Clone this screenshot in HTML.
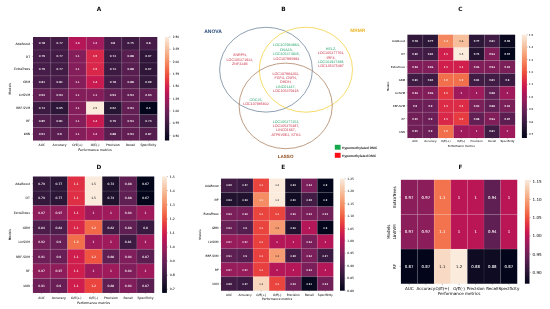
<!DOCTYPE html>
<html><head><meta charset="utf-8"><title>Figure</title>
<style>
html,body{margin:0;padding:0;background:#fff;}
body{width:550px;height:309px;overflow:hidden;}
svg{display:block;font-family:'DejaVu Sans','Liberation Sans',sans-serif;text-rendering:geometricPrecision;}
text{paint-order:stroke;stroke-linejoin:round;}
</style></head><body>
<svg width="550" height="309" viewBox="0 0 550 309">
<defs><linearGradient id="gA" x1="0" y1="0" x2="0" y2="1"><stop offset="0.0000" stop-color="#faebdd"/><stop offset="0.0417" stop-color="#f8dcc7"/><stop offset="0.0833" stop-color="#f7ccaf"/><stop offset="0.1250" stop-color="#f6bc99"/><stop offset="0.1667" stop-color="#f6ab83"/><stop offset="0.2083" stop-color="#f59970"/><stop offset="0.2500" stop-color="#f58860"/><stop offset="0.2917" stop-color="#f37450"/><stop offset="0.3333" stop-color="#f06043"/><stop offset="0.3750" stop-color="#ec4c3e"/><stop offset="0.4167" stop-color="#e43841"/><stop offset="0.4583" stop-color="#d82748"/><stop offset="0.5000" stop-color="#cb1b4f"/><stop offset="0.5417" stop-color="#ba1656"/><stop offset="0.5833" stop-color="#a8185a"/><stop offset="0.6250" stop-color="#971c5b"/><stop offset="0.6667" stop-color="#841e5a"/><stop offset="0.7083" stop-color="#711f57"/><stop offset="0.7500" stop-color="#611f53"/><stop offset="0.7917" stop-color="#501d4c"/><stop offset="0.8333" stop-color="#3f1b43"/><stop offset="0.8750" stop-color="#30173a"/><stop offset="0.9167" stop-color="#20122e"/><stop offset="0.9583" stop-color="#100b23"/><stop offset="1.0000" stop-color="#03051a"/></linearGradient><linearGradient id="gC" x1="0" y1="0" x2="0" y2="1"><stop offset="0.0000" stop-color="#faebdd"/><stop offset="0.0417" stop-color="#f8dcc7"/><stop offset="0.0833" stop-color="#f7ccaf"/><stop offset="0.1250" stop-color="#f6bc99"/><stop offset="0.1667" stop-color="#f6ab83"/><stop offset="0.2083" stop-color="#f59970"/><stop offset="0.2500" stop-color="#f58860"/><stop offset="0.2917" stop-color="#f37450"/><stop offset="0.3333" stop-color="#f06043"/><stop offset="0.3750" stop-color="#ec4c3e"/><stop offset="0.4167" stop-color="#e43841"/><stop offset="0.4583" stop-color="#d82748"/><stop offset="0.5000" stop-color="#cb1b4f"/><stop offset="0.5417" stop-color="#ba1656"/><stop offset="0.5833" stop-color="#a8185a"/><stop offset="0.6250" stop-color="#971c5b"/><stop offset="0.6667" stop-color="#841e5a"/><stop offset="0.7083" stop-color="#711f57"/><stop offset="0.7500" stop-color="#611f53"/><stop offset="0.7917" stop-color="#501d4c"/><stop offset="0.8333" stop-color="#3f1b43"/><stop offset="0.8750" stop-color="#30173a"/><stop offset="0.9167" stop-color="#20122e"/><stop offset="0.9583" stop-color="#100b23"/><stop offset="1.0000" stop-color="#03051a"/></linearGradient><linearGradient id="gD" x1="0" y1="0" x2="0" y2="1"><stop offset="0.0000" stop-color="#faebdd"/><stop offset="0.0417" stop-color="#f8dcc7"/><stop offset="0.0833" stop-color="#f7ccaf"/><stop offset="0.1250" stop-color="#f6bc99"/><stop offset="0.1667" stop-color="#f6ab83"/><stop offset="0.2083" stop-color="#f59970"/><stop offset="0.2500" stop-color="#f58860"/><stop offset="0.2917" stop-color="#f37450"/><stop offset="0.3333" stop-color="#f06043"/><stop offset="0.3750" stop-color="#ec4c3e"/><stop offset="0.4167" stop-color="#e43841"/><stop offset="0.4583" stop-color="#d82748"/><stop offset="0.5000" stop-color="#cb1b4f"/><stop offset="0.5417" stop-color="#ba1656"/><stop offset="0.5833" stop-color="#a8185a"/><stop offset="0.6250" stop-color="#971c5b"/><stop offset="0.6667" stop-color="#841e5a"/><stop offset="0.7083" stop-color="#711f57"/><stop offset="0.7500" stop-color="#611f53"/><stop offset="0.7917" stop-color="#501d4c"/><stop offset="0.8333" stop-color="#3f1b43"/><stop offset="0.8750" stop-color="#30173a"/><stop offset="0.9167" stop-color="#20122e"/><stop offset="0.9583" stop-color="#100b23"/><stop offset="1.0000" stop-color="#03051a"/></linearGradient><linearGradient id="gE" x1="0" y1="0" x2="0" y2="1"><stop offset="0.0000" stop-color="#faebdd"/><stop offset="0.0417" stop-color="#f8dcc7"/><stop offset="0.0833" stop-color="#f7ccaf"/><stop offset="0.1250" stop-color="#f6bc99"/><stop offset="0.1667" stop-color="#f6ab83"/><stop offset="0.2083" stop-color="#f59970"/><stop offset="0.2500" stop-color="#f58860"/><stop offset="0.2917" stop-color="#f37450"/><stop offset="0.3333" stop-color="#f06043"/><stop offset="0.3750" stop-color="#ec4c3e"/><stop offset="0.4167" stop-color="#e43841"/><stop offset="0.4583" stop-color="#d82748"/><stop offset="0.5000" stop-color="#cb1b4f"/><stop offset="0.5417" stop-color="#ba1656"/><stop offset="0.5833" stop-color="#a8185a"/><stop offset="0.6250" stop-color="#971c5b"/><stop offset="0.6667" stop-color="#841e5a"/><stop offset="0.7083" stop-color="#711f57"/><stop offset="0.7500" stop-color="#611f53"/><stop offset="0.7917" stop-color="#501d4c"/><stop offset="0.8333" stop-color="#3f1b43"/><stop offset="0.8750" stop-color="#30173a"/><stop offset="0.9167" stop-color="#20122e"/><stop offset="0.9583" stop-color="#100b23"/><stop offset="1.0000" stop-color="#03051a"/></linearGradient><linearGradient id="gF" x1="0" y1="0" x2="0" y2="1"><stop offset="0.0000" stop-color="#faebdd"/><stop offset="0.0417" stop-color="#f8dcc7"/><stop offset="0.0833" stop-color="#f7ccaf"/><stop offset="0.1250" stop-color="#f6bc99"/><stop offset="0.1667" stop-color="#f6ab83"/><stop offset="0.2083" stop-color="#f59970"/><stop offset="0.2500" stop-color="#f58860"/><stop offset="0.2917" stop-color="#f37450"/><stop offset="0.3333" stop-color="#f06043"/><stop offset="0.3750" stop-color="#ec4c3e"/><stop offset="0.4167" stop-color="#e43841"/><stop offset="0.4583" stop-color="#d82748"/><stop offset="0.5000" stop-color="#cb1b4f"/><stop offset="0.5417" stop-color="#ba1656"/><stop offset="0.5833" stop-color="#a8185a"/><stop offset="0.6250" stop-color="#971c5b"/><stop offset="0.6667" stop-color="#841e5a"/><stop offset="0.7083" stop-color="#711f57"/><stop offset="0.7500" stop-color="#611f53"/><stop offset="0.7917" stop-color="#501d4c"/><stop offset="0.8333" stop-color="#3f1b43"/><stop offset="0.8750" stop-color="#30173a"/><stop offset="0.9167" stop-color="#20122e"/><stop offset="0.9583" stop-color="#100b23"/><stop offset="1.0000" stop-color="#03051a"/></linearGradient></defs>
<rect width="550" height="309" fill="#ffffff"/>
<rect x="33.00" y="37.00" width="17.80" height="12.99" fill="#451c47"/>
<rect x="50.75" y="37.00" width="17.80" height="12.99" fill="#431c46"/>
<rect x="68.50" y="37.00" width="17.80" height="12.99" fill="#b51657"/>
<rect x="86.25" y="37.00" width="17.80" height="12.99" fill="#a11a5b"/>
<rect x="104.00" y="37.00" width="17.80" height="12.99" fill="#481c48"/>
<rect x="121.75" y="37.00" width="17.80" height="12.99" fill="#3f1b43"/>
<rect x="139.50" y="37.00" width="17.80" height="12.99" fill="#481c48"/>
<rect x="33.00" y="49.94" width="17.80" height="12.99" fill="#461c48"/>
<rect x="50.75" y="49.94" width="17.80" height="12.99" fill="#431c46"/>
<rect x="68.50" y="49.94" width="17.80" height="12.99" fill="#841e5a"/>
<rect x="86.25" y="49.94" width="17.80" height="12.99" fill="#d82748"/>
<rect x="104.00" y="49.94" width="17.80" height="12.99" fill="#3d1a42"/>
<rect x="121.75" y="49.94" width="17.80" height="12.99" fill="#581e4f"/>
<rect x="139.50" y="49.94" width="17.80" height="12.99" fill="#30173a"/>
<rect x="33.00" y="62.88" width="17.80" height="12.99" fill="#461c48"/>
<rect x="50.75" y="62.88" width="17.80" height="12.99" fill="#431c46"/>
<rect x="68.50" y="62.88" width="17.80" height="12.99" fill="#841e5a"/>
<rect x="86.25" y="62.88" width="17.80" height="12.99" fill="#d82748"/>
<rect x="104.00" y="62.88" width="17.80" height="12.99" fill="#3d1a42"/>
<rect x="121.75" y="62.88" width="17.80" height="12.99" fill="#581e4f"/>
<rect x="139.50" y="62.88" width="17.80" height="12.99" fill="#30173a"/>
<rect x="33.00" y="75.81" width="17.80" height="12.99" fill="#491d49"/>
<rect x="50.75" y="75.81" width="17.80" height="12.99" fill="#491d49"/>
<rect x="68.50" y="75.81" width="17.80" height="12.99" fill="#841e5a"/>
<rect x="86.25" y="75.81" width="17.80" height="12.99" fill="#c81951"/>
<rect x="104.00" y="75.81" width="17.80" height="12.99" fill="#451c47"/>
<rect x="121.75" y="75.81" width="17.80" height="12.99" fill="#581e4f"/>
<rect x="139.50" y="75.81" width="17.80" height="12.99" fill="#34193d"/>
<rect x="33.00" y="88.75" width="17.80" height="12.99" fill="#631f53"/>
<rect x="50.75" y="88.75" width="17.80" height="12.99" fill="#631f53"/>
<rect x="68.50" y="88.75" width="17.80" height="12.99" fill="#841e5a"/>
<rect x="86.25" y="88.75" width="17.80" height="12.99" fill="#841e5a"/>
<rect x="104.00" y="88.75" width="17.80" height="12.99" fill="#631f53"/>
<rect x="121.75" y="88.75" width="17.80" height="12.99" fill="#631f53"/>
<rect x="139.50" y="88.75" width="17.80" height="12.99" fill="#611f53"/>
<rect x="33.00" y="101.69" width="17.80" height="12.99" fill="#3d1a42"/>
<rect x="50.75" y="101.69" width="17.80" height="12.99" fill="#2d1738"/>
<rect x="68.50" y="101.69" width="17.80" height="12.99" fill="#841e5a"/>
<rect x="86.25" y="101.69" width="17.80" height="12.99" fill="#faebdd"/>
<rect x="104.00" y="101.69" width="17.80" height="12.99" fill="#271534"/>
<rect x="121.75" y="101.69" width="17.80" height="12.99" fill="#631f53"/>
<rect x="139.50" y="101.69" width="17.80" height="12.99" fill="#03051a"/>
<rect x="33.00" y="114.62" width="17.80" height="12.99" fill="#511e4d"/>
<rect x="50.75" y="114.62" width="17.80" height="12.99" fill="#491d49"/>
<rect x="68.50" y="114.62" width="17.80" height="12.99" fill="#841e5a"/>
<rect x="86.25" y="114.62" width="17.80" height="12.99" fill="#c81951"/>
<rect x="104.00" y="114.62" width="17.80" height="12.99" fill="#461c48"/>
<rect x="121.75" y="114.62" width="17.80" height="12.99" fill="#631f53"/>
<rect x="139.50" y="114.62" width="17.80" height="12.99" fill="#3c1a42"/>
<rect x="33.00" y="127.56" width="17.80" height="12.99" fill="#5e1f52"/>
<rect x="50.75" y="127.56" width="17.80" height="12.99" fill="#5b1e51"/>
<rect x="68.50" y="127.56" width="17.80" height="12.99" fill="#841e5a"/>
<rect x="86.25" y="127.56" width="17.80" height="12.99" fill="#981b5b"/>
<rect x="104.00" y="127.56" width="17.80" height="12.99" fill="#581e4f"/>
<rect x="121.75" y="127.56" width="17.80" height="12.99" fill="#631f53"/>
<rect x="139.50" y="127.56" width="17.80" height="12.99" fill="#561e4f"/>
<line x1="50.75" y1="37.00" x2="50.75" y2="140.50" stroke="#fff" stroke-opacity="0.42" stroke-width="0.25"/>
<line x1="68.50" y1="37.00" x2="68.50" y2="140.50" stroke="#fff" stroke-opacity="0.42" stroke-width="0.25"/>
<line x1="86.25" y1="37.00" x2="86.25" y2="140.50" stroke="#fff" stroke-opacity="0.42" stroke-width="0.25"/>
<line x1="104.00" y1="37.00" x2="104.00" y2="140.50" stroke="#fff" stroke-opacity="0.42" stroke-width="0.25"/>
<line x1="121.75" y1="37.00" x2="121.75" y2="140.50" stroke="#fff" stroke-opacity="0.42" stroke-width="0.25"/>
<line x1="139.50" y1="37.00" x2="139.50" y2="140.50" stroke="#fff" stroke-opacity="0.42" stroke-width="0.25"/>
<line x1="33.00" y1="49.94" x2="157.25" y2="49.94" stroke="#fff" stroke-opacity="0.42" stroke-width="0.25"/>
<line x1="33.00" y1="62.88" x2="157.25" y2="62.88" stroke="#fff" stroke-opacity="0.42" stroke-width="0.25"/>
<line x1="33.00" y1="75.81" x2="157.25" y2="75.81" stroke="#fff" stroke-opacity="0.42" stroke-width="0.25"/>
<line x1="33.00" y1="88.75" x2="157.25" y2="88.75" stroke="#fff" stroke-opacity="0.42" stroke-width="0.25"/>
<line x1="33.00" y1="101.69" x2="157.25" y2="101.69" stroke="#fff" stroke-opacity="0.42" stroke-width="0.25"/>
<line x1="33.00" y1="114.62" x2="157.25" y2="114.62" stroke="#fff" stroke-opacity="0.42" stroke-width="0.25"/>
<line x1="33.00" y1="127.56" x2="157.25" y2="127.56" stroke="#fff" stroke-opacity="0.42" stroke-width="0.25"/>
<text x="41.88" y="44.48" font-size="2.8" fill="#ffffff" text-anchor="middle" stroke="#ffffff" stroke-width="0.045">0.78</text>
<text x="59.62" y="44.48" font-size="2.8" fill="#ffffff" text-anchor="middle" stroke="#ffffff" stroke-width="0.045">0.77</text>
<text x="77.38" y="44.48" font-size="2.8" fill="#ffffff" text-anchor="middle" stroke="#ffffff" stroke-width="0.045">1.3</text>
<text x="95.12" y="44.48" font-size="2.8" fill="#ffffff" text-anchor="middle" stroke="#ffffff" stroke-width="0.045">1.2</text>
<text x="112.88" y="44.48" font-size="2.8" fill="#ffffff" text-anchor="middle" stroke="#ffffff" stroke-width="0.045">0.8</text>
<text x="130.62" y="44.48" font-size="2.8" fill="#ffffff" text-anchor="middle" stroke="#ffffff" stroke-width="0.045">0.75</text>
<text x="148.38" y="44.48" font-size="2.8" fill="#ffffff" text-anchor="middle" stroke="#ffffff" stroke-width="0.045">0.8</text>
<text x="41.88" y="57.41" font-size="2.8" fill="#ffffff" text-anchor="middle" stroke="#ffffff" stroke-width="0.045">0.79</text>
<text x="59.62" y="57.41" font-size="2.8" fill="#ffffff" text-anchor="middle" stroke="#ffffff" stroke-width="0.045">0.77</text>
<text x="77.38" y="57.41" font-size="2.8" fill="#ffffff" text-anchor="middle" stroke="#ffffff" stroke-width="0.045">1.1</text>
<text x="95.12" y="57.41" font-size="2.8" fill="#ffffff" text-anchor="middle" stroke="#ffffff" stroke-width="0.045">1.5</text>
<text x="112.88" y="57.41" font-size="2.8" fill="#ffffff" text-anchor="middle" stroke="#ffffff" stroke-width="0.045">0.74</text>
<text x="130.62" y="57.41" font-size="2.8" fill="#ffffff" text-anchor="middle" stroke="#ffffff" stroke-width="0.045">0.88</text>
<text x="148.38" y="57.41" font-size="2.8" fill="#ffffff" text-anchor="middle" stroke="#ffffff" stroke-width="0.045">0.67</text>
<text x="41.88" y="70.35" font-size="2.8" fill="#ffffff" text-anchor="middle" stroke="#ffffff" stroke-width="0.045">0.79</text>
<text x="59.62" y="70.35" font-size="2.8" fill="#ffffff" text-anchor="middle" stroke="#ffffff" stroke-width="0.045">0.77</text>
<text x="77.38" y="70.35" font-size="2.8" fill="#ffffff" text-anchor="middle" stroke="#ffffff" stroke-width="0.045">1.1</text>
<text x="95.12" y="70.35" font-size="2.8" fill="#ffffff" text-anchor="middle" stroke="#ffffff" stroke-width="0.045">1.5</text>
<text x="112.88" y="70.35" font-size="2.8" fill="#ffffff" text-anchor="middle" stroke="#ffffff" stroke-width="0.045">0.74</text>
<text x="130.62" y="70.35" font-size="2.8" fill="#ffffff" text-anchor="middle" stroke="#ffffff" stroke-width="0.045">0.88</text>
<text x="148.38" y="70.35" font-size="2.8" fill="#ffffff" text-anchor="middle" stroke="#ffffff" stroke-width="0.045">0.67</text>
<text x="41.88" y="83.29" font-size="2.8" fill="#ffffff" text-anchor="middle" stroke="#ffffff" stroke-width="0.045">0.81</text>
<text x="59.62" y="83.29" font-size="2.8" fill="#ffffff" text-anchor="middle" stroke="#ffffff" stroke-width="0.045">0.81</text>
<text x="77.38" y="83.29" font-size="2.8" fill="#ffffff" text-anchor="middle" stroke="#ffffff" stroke-width="0.045">1.1</text>
<text x="95.12" y="83.29" font-size="2.8" fill="#ffffff" text-anchor="middle" stroke="#ffffff" stroke-width="0.045">1.4</text>
<text x="112.88" y="83.29" font-size="2.8" fill="#ffffff" text-anchor="middle" stroke="#ffffff" stroke-width="0.045">0.78</text>
<text x="130.62" y="83.29" font-size="2.8" fill="#ffffff" text-anchor="middle" stroke="#ffffff" stroke-width="0.045">0.88</text>
<text x="148.38" y="83.29" font-size="2.8" fill="#ffffff" text-anchor="middle" stroke="#ffffff" stroke-width="0.045">0.69</text>
<text x="41.88" y="96.23" font-size="2.8" fill="#ffffff" text-anchor="middle" stroke="#ffffff" stroke-width="0.045">0.94</text>
<text x="59.62" y="96.23" font-size="2.8" fill="#ffffff" text-anchor="middle" stroke="#ffffff" stroke-width="0.045">0.94</text>
<text x="77.38" y="96.23" font-size="2.8" fill="#ffffff" text-anchor="middle" stroke="#ffffff" stroke-width="0.045">1.1</text>
<text x="95.12" y="96.23" font-size="2.8" fill="#ffffff" text-anchor="middle" stroke="#ffffff" stroke-width="0.045">1.1</text>
<text x="112.88" y="96.23" font-size="2.8" fill="#ffffff" text-anchor="middle" stroke="#ffffff" stroke-width="0.045">0.94</text>
<text x="130.62" y="96.23" font-size="2.8" fill="#ffffff" text-anchor="middle" stroke="#ffffff" stroke-width="0.045">0.94</text>
<text x="148.38" y="96.23" font-size="2.8" fill="#ffffff" text-anchor="middle" stroke="#ffffff" stroke-width="0.045">0.93</text>
<text x="41.88" y="109.16" font-size="2.8" fill="#ffffff" text-anchor="middle" stroke="#ffffff" stroke-width="0.045">0.74</text>
<text x="59.62" y="109.16" font-size="2.8" fill="#ffffff" text-anchor="middle" stroke="#ffffff" stroke-width="0.045">0.65</text>
<text x="77.38" y="109.16" font-size="2.8" fill="#ffffff" text-anchor="middle" stroke="#ffffff" stroke-width="0.045">1.1</text>
<text x="95.12" y="109.16" font-size="2.8" fill="#262626" text-anchor="middle" stroke="#262626" stroke-width="0.045">2.5</text>
<text x="112.88" y="109.16" font-size="2.8" fill="#ffffff" text-anchor="middle" stroke="#ffffff" stroke-width="0.045">0.62</text>
<text x="130.62" y="109.16" font-size="2.8" fill="#ffffff" text-anchor="middle" stroke="#ffffff" stroke-width="0.045">0.94</text>
<text x="148.38" y="109.16" font-size="2.8" fill="#ffffff" text-anchor="middle" stroke="#ffffff" stroke-width="0.045">0.4</text>
<text x="41.88" y="122.10" font-size="2.8" fill="#ffffff" text-anchor="middle" stroke="#ffffff" stroke-width="0.045">0.85</text>
<text x="59.62" y="122.10" font-size="2.8" fill="#ffffff" text-anchor="middle" stroke="#ffffff" stroke-width="0.045">0.81</text>
<text x="77.38" y="122.10" font-size="2.8" fill="#ffffff" text-anchor="middle" stroke="#ffffff" stroke-width="0.045">1.1</text>
<text x="95.12" y="122.10" font-size="2.8" fill="#ffffff" text-anchor="middle" stroke="#ffffff" stroke-width="0.045">1.4</text>
<text x="112.88" y="122.10" font-size="2.8" fill="#ffffff" text-anchor="middle" stroke="#ffffff" stroke-width="0.045">0.79</text>
<text x="130.62" y="122.10" font-size="2.8" fill="#ffffff" text-anchor="middle" stroke="#ffffff" stroke-width="0.045">0.94</text>
<text x="148.38" y="122.10" font-size="2.8" fill="#ffffff" text-anchor="middle" stroke="#ffffff" stroke-width="0.045">0.73</text>
<text x="41.88" y="135.04" font-size="2.8" fill="#ffffff" text-anchor="middle" stroke="#ffffff" stroke-width="0.045">0.91</text>
<text x="59.62" y="135.04" font-size="2.8" fill="#ffffff" text-anchor="middle" stroke="#ffffff" stroke-width="0.045">0.9</text>
<text x="77.38" y="135.04" font-size="2.8" fill="#ffffff" text-anchor="middle" stroke="#ffffff" stroke-width="0.045">1.1</text>
<text x="95.12" y="135.04" font-size="2.8" fill="#ffffff" text-anchor="middle" stroke="#ffffff" stroke-width="0.045">1.2</text>
<text x="112.88" y="135.04" font-size="2.8" fill="#ffffff" text-anchor="middle" stroke="#ffffff" stroke-width="0.045">0.88</text>
<text x="130.62" y="135.04" font-size="2.8" fill="#ffffff" text-anchor="middle" stroke="#ffffff" stroke-width="0.045">0.94</text>
<text x="148.38" y="135.04" font-size="2.8" fill="#ffffff" text-anchor="middle" stroke="#ffffff" stroke-width="0.045">0.87</text>
<line x1="41.88" y1="140.50" x2="41.88" y2="141.58" stroke="#222" stroke-width="0.25"/>
<text x="41.88" y="145.71" font-size="3.08" fill="#222" text-anchor="middle" stroke="#222" stroke-width="0.045">AUC</text>
<line x1="59.62" y1="140.50" x2="59.62" y2="141.58" stroke="#222" stroke-width="0.25"/>
<text x="59.62" y="145.71" font-size="3.08" fill="#222" text-anchor="middle" stroke="#222" stroke-width="0.045">Accuracy</text>
<line x1="77.38" y1="140.50" x2="77.38" y2="141.58" stroke="#222" stroke-width="0.25"/>
<text x="77.38" y="145.71" font-size="3.08" fill="#222" text-anchor="middle" stroke="#222" stroke-width="0.045">O/E(+)</text>
<line x1="95.12" y1="140.50" x2="95.12" y2="141.58" stroke="#222" stroke-width="0.25"/>
<text x="95.12" y="145.71" font-size="3.08" fill="#222" text-anchor="middle" stroke="#222" stroke-width="0.045">O/E(-)</text>
<line x1="112.88" y1="140.50" x2="112.88" y2="141.58" stroke="#222" stroke-width="0.25"/>
<text x="112.88" y="145.71" font-size="3.08" fill="#222" text-anchor="middle" stroke="#222" stroke-width="0.045">Precision</text>
<line x1="130.62" y1="140.50" x2="130.62" y2="141.58" stroke="#222" stroke-width="0.25"/>
<text x="130.62" y="145.71" font-size="3.08" fill="#222" text-anchor="middle" stroke="#222" stroke-width="0.045">Recall</text>
<line x1="148.38" y1="140.50" x2="148.38" y2="141.58" stroke="#222" stroke-width="0.25"/>
<text x="148.38" y="145.71" font-size="3.08" fill="#222" text-anchor="middle" stroke="#222" stroke-width="0.045">Specificity</text>
<line x1="31.92" y1="43.47" x2="33.00" y2="43.47" stroke="#222" stroke-width="0.25"/>
<text x="30.10" y="44.58" font-size="3.08" fill="#222" text-anchor="end" stroke="#222" stroke-width="0.045">AdaBoost</text>
<line x1="31.92" y1="56.41" x2="33.00" y2="56.41" stroke="#222" stroke-width="0.25"/>
<text x="30.10" y="57.52" font-size="3.08" fill="#222" text-anchor="end" stroke="#222" stroke-width="0.045">DT</text>
<line x1="31.92" y1="69.34" x2="33.00" y2="69.34" stroke="#222" stroke-width="0.25"/>
<text x="30.10" y="70.45" font-size="3.08" fill="#222" text-anchor="end" stroke="#222" stroke-width="0.045">ExtraTrees</text>
<line x1="31.92" y1="82.28" x2="33.00" y2="82.28" stroke="#222" stroke-width="0.25"/>
<text x="30.10" y="83.39" font-size="3.08" fill="#222" text-anchor="end" stroke="#222" stroke-width="0.045">GBM</text>
<line x1="31.92" y1="95.22" x2="33.00" y2="95.22" stroke="#222" stroke-width="0.25"/>
<text x="30.10" y="96.33" font-size="3.08" fill="#222" text-anchor="end" stroke="#222" stroke-width="0.045">LinSVM</text>
<line x1="31.92" y1="108.16" x2="33.00" y2="108.16" stroke="#222" stroke-width="0.25"/>
<text x="30.10" y="109.27" font-size="3.08" fill="#222" text-anchor="end" stroke="#222" stroke-width="0.045">RBF-SVM</text>
<line x1="31.92" y1="121.09" x2="33.00" y2="121.09" stroke="#222" stroke-width="0.25"/>
<text x="30.10" y="122.20" font-size="3.08" fill="#222" text-anchor="end" stroke="#222" stroke-width="0.045">RF</text>
<line x1="31.92" y1="134.03" x2="33.00" y2="134.03" stroke="#222" stroke-width="0.25"/>
<text x="30.10" y="135.14" font-size="3.08" fill="#222" text-anchor="end" stroke="#222" stroke-width="0.045">kNN</text>
<text x="95.12" y="150.97" font-size="3.25" fill="#222" text-anchor="middle" stroke="#222" stroke-width="0.045">Performance metrics</text>
<text transform="translate(11.17,88.75) rotate(-90)" font-size="3.25" fill="#222" text-anchor="middle" stroke="#222" stroke-width="0.045">Models</text>
<rect x="164.90" y="37.00" width="4.30" height="103.50" fill="url(#gA)"/>
<line x1="169.20" y1="135.57" x2="170.70" y2="135.57" stroke="#222" stroke-width="0.25"/>
<text x="172.70" y="136.62" font-size="2.9" fill="#222" stroke="#222" stroke-width="0.045">0.50</text>
<line x1="169.20" y1="123.25" x2="170.70" y2="123.25" stroke="#222" stroke-width="0.25"/>
<text x="172.70" y="124.29" font-size="2.9" fill="#222" stroke="#222" stroke-width="0.045">0.75</text>
<line x1="169.20" y1="110.93" x2="170.70" y2="110.93" stroke="#222" stroke-width="0.25"/>
<text x="172.70" y="111.97" font-size="2.9" fill="#222" stroke="#222" stroke-width="0.045">1.00</text>
<line x1="169.20" y1="98.61" x2="170.70" y2="98.61" stroke="#222" stroke-width="0.25"/>
<text x="172.70" y="99.65" font-size="2.9" fill="#222" stroke="#222" stroke-width="0.045">1.25</text>
<line x1="169.20" y1="86.29" x2="170.70" y2="86.29" stroke="#222" stroke-width="0.25"/>
<text x="172.70" y="87.33" font-size="2.9" fill="#222" stroke="#222" stroke-width="0.045">1.50</text>
<line x1="169.20" y1="73.96" x2="170.70" y2="73.96" stroke="#222" stroke-width="0.25"/>
<text x="172.70" y="75.01" font-size="2.9" fill="#222" stroke="#222" stroke-width="0.045">1.75</text>
<line x1="169.20" y1="61.64" x2="170.70" y2="61.64" stroke="#222" stroke-width="0.25"/>
<text x="172.70" y="62.69" font-size="2.9" fill="#222" stroke="#222" stroke-width="0.045">2.00</text>
<line x1="169.20" y1="49.32" x2="170.70" y2="49.32" stroke="#222" stroke-width="0.25"/>
<text x="172.70" y="50.37" font-size="2.9" fill="#222" stroke="#222" stroke-width="0.045">2.25</text>
<line x1="169.20" y1="37.00" x2="170.70" y2="37.00" stroke="#222" stroke-width="0.25"/>
<text x="172.70" y="38.04" font-size="2.9" fill="#222" stroke="#222" stroke-width="0.045">2.50</text>
<text x="99.00" y="11.30" font-size="5.8" font-weight="bold" fill="#111" text-anchor="middle" font-family="'DejaVu Sans','Liberation Sans',sans-serif">A</text>
<rect x="407.40" y="34.70" width="15.44" height="12.96" fill="#31183b"/>
<rect x="422.79" y="34.70" width="15.44" height="12.96" fill="#2d1738"/>
<rect x="438.17" y="34.70" width="15.44" height="12.96" fill="#f4865e"/>
<rect x="453.56" y="34.70" width="15.44" height="12.96" fill="#f6be9b"/>
<rect x="468.94" y="34.70" width="15.44" height="12.96" fill="#2d1738"/>
<rect x="484.33" y="34.70" width="15.44" height="12.96" fill="#401b44"/>
<rect x="499.71" y="34.70" width="15.44" height="12.96" fill="#0a091f"/>
<rect x="407.40" y="47.61" width="15.44" height="12.96" fill="#451c47"/>
<rect x="422.79" y="47.61" width="15.44" height="12.96" fill="#401b44"/>
<rect x="438.17" y="47.61" width="15.44" height="12.96" fill="#d11f4c"/>
<rect x="453.56" y="47.61" width="15.44" height="12.96" fill="#faebdd"/>
<rect x="468.94" y="47.61" width="15.44" height="12.96" fill="#241432"/>
<rect x="484.33" y="47.61" width="15.44" height="12.96" fill="#811e5a"/>
<rect x="499.71" y="47.61" width="15.44" height="12.96" fill="#03051a"/>
<rect x="407.40" y="60.53" width="15.44" height="12.96" fill="#811e5a"/>
<rect x="422.79" y="60.53" width="15.44" height="12.96" fill="#811e5a"/>
<rect x="438.17" y="60.53" width="15.44" height="12.96" fill="#d11f4c"/>
<rect x="453.56" y="60.53" width="15.44" height="12.96" fill="#d11f4c"/>
<rect x="468.94" y="60.53" width="15.44" height="12.96" fill="#811e5a"/>
<rect x="484.33" y="60.53" width="15.44" height="12.96" fill="#811e5a"/>
<rect x="499.71" y="60.53" width="15.44" height="12.96" fill="#7b1f59"/>
<rect x="407.40" y="73.44" width="15.44" height="12.96" fill="#401b44"/>
<rect x="422.79" y="73.44" width="15.44" height="12.96" fill="#401b44"/>
<rect x="438.17" y="73.44" width="15.44" height="12.96" fill="#f26f4c"/>
<rect x="453.56" y="73.44" width="15.44" height="12.96" fill="#f26f4c"/>
<rect x="468.94" y="73.44" width="15.44" height="12.96" fill="#401b44"/>
<rect x="484.33" y="73.44" width="15.44" height="12.96" fill="#401b44"/>
<rect x="499.71" y="73.44" width="15.44" height="12.96" fill="#3c1a42"/>
<rect x="407.40" y="86.35" width="15.44" height="12.96" fill="#811e5a"/>
<rect x="422.79" y="86.35" width="15.44" height="12.96" fill="#811e5a"/>
<rect x="438.17" y="86.35" width="15.44" height="12.96" fill="#e33641"/>
<rect x="453.56" y="86.35" width="15.44" height="12.96" fill="#9f1a5b"/>
<rect x="468.94" y="86.35" width="15.44" height="12.96" fill="#9f1a5b"/>
<rect x="484.33" y="86.35" width="15.44" height="12.96" fill="#611f53"/>
<rect x="499.71" y="86.35" width="15.44" height="12.96" fill="#9f1a5b"/>
<rect x="407.40" y="99.26" width="15.44" height="12.96" fill="#6b1f56"/>
<rect x="422.79" y="99.26" width="15.44" height="12.96" fill="#6b1f56"/>
<rect x="438.17" y="99.26" width="15.44" height="12.96" fill="#dc2b46"/>
<rect x="453.56" y="99.26" width="15.44" height="12.96" fill="#dc2b46"/>
<rect x="468.94" y="99.26" width="15.44" height="12.96" fill="#7b1f59"/>
<rect x="484.33" y="99.26" width="15.44" height="12.96" fill="#611f53"/>
<rect x="499.71" y="99.26" width="15.44" height="12.96" fill="#7b1f59"/>
<rect x="407.40" y="112.17" width="15.44" height="12.96" fill="#711f57"/>
<rect x="422.79" y="112.17" width="15.44" height="12.96" fill="#6b1f56"/>
<rect x="438.17" y="112.17" width="15.44" height="12.96" fill="#d82748"/>
<rect x="453.56" y="112.17" width="15.44" height="12.96" fill="#e63b40"/>
<rect x="468.94" y="112.17" width="15.44" height="12.96" fill="#611f53"/>
<rect x="484.33" y="112.17" width="15.44" height="12.96" fill="#811e5a"/>
<rect x="499.71" y="112.17" width="15.44" height="12.96" fill="#5c1e51"/>
<rect x="407.40" y="125.09" width="15.44" height="12.96" fill="#711f57"/>
<rect x="422.79" y="125.09" width="15.44" height="12.96" fill="#6b1f56"/>
<rect x="438.17" y="125.09" width="15.44" height="12.96" fill="#f26f4c"/>
<rect x="453.56" y="125.09" width="15.44" height="12.96" fill="#9f1a5b"/>
<rect x="468.94" y="125.09" width="15.44" height="12.96" fill="#9f1a5b"/>
<rect x="484.33" y="125.09" width="15.44" height="12.96" fill="#401b44"/>
<rect x="499.71" y="125.09" width="15.44" height="12.96" fill="#9f1a5b"/>
<line x1="422.79" y1="34.70" x2="422.79" y2="138.00" stroke="#fff" stroke-opacity="0.42" stroke-width="0.25"/>
<line x1="438.17" y1="34.70" x2="438.17" y2="138.00" stroke="#fff" stroke-opacity="0.42" stroke-width="0.25"/>
<line x1="453.56" y1="34.70" x2="453.56" y2="138.00" stroke="#fff" stroke-opacity="0.42" stroke-width="0.25"/>
<line x1="468.94" y1="34.70" x2="468.94" y2="138.00" stroke="#fff" stroke-opacity="0.42" stroke-width="0.25"/>
<line x1="484.33" y1="34.70" x2="484.33" y2="138.00" stroke="#fff" stroke-opacity="0.42" stroke-width="0.25"/>
<line x1="499.71" y1="34.70" x2="499.71" y2="138.00" stroke="#fff" stroke-opacity="0.42" stroke-width="0.25"/>
<line x1="407.40" y1="47.61" x2="515.10" y2="47.61" stroke="#fff" stroke-opacity="0.42" stroke-width="0.25"/>
<line x1="407.40" y1="60.53" x2="515.10" y2="60.53" stroke="#fff" stroke-opacity="0.42" stroke-width="0.25"/>
<line x1="407.40" y1="73.44" x2="515.10" y2="73.44" stroke="#fff" stroke-opacity="0.42" stroke-width="0.25"/>
<line x1="407.40" y1="86.35" x2="515.10" y2="86.35" stroke="#fff" stroke-opacity="0.42" stroke-width="0.25"/>
<line x1="407.40" y1="99.26" x2="515.10" y2="99.26" stroke="#fff" stroke-opacity="0.42" stroke-width="0.25"/>
<line x1="407.40" y1="112.17" x2="515.10" y2="112.17" stroke="#fff" stroke-opacity="0.42" stroke-width="0.25"/>
<line x1="407.40" y1="125.09" x2="515.10" y2="125.09" stroke="#fff" stroke-opacity="0.42" stroke-width="0.25"/>
<text x="415.09" y="42.07" font-size="2.55" fill="#ffffff" text-anchor="middle" stroke="#ffffff" stroke-width="0.045">0.78</text>
<text x="430.48" y="42.07" font-size="2.55" fill="#ffffff" text-anchor="middle" stroke="#ffffff" stroke-width="0.045">0.77</text>
<text x="445.86" y="42.07" font-size="2.55" fill="#ffffff" text-anchor="middle" stroke="#ffffff" stroke-width="0.045">1.3</text>
<text x="461.25" y="42.07" font-size="2.55" fill="#262626" text-anchor="middle" stroke="#262626" stroke-width="0.045">1.4</text>
<text x="476.64" y="42.07" font-size="2.55" fill="#ffffff" text-anchor="middle" stroke="#ffffff" stroke-width="0.045">0.77</text>
<text x="492.02" y="42.07" font-size="2.55" fill="#ffffff" text-anchor="middle" stroke="#ffffff" stroke-width="0.045">0.81</text>
<text x="507.41" y="42.07" font-size="2.55" fill="#ffffff" text-anchor="middle" stroke="#ffffff" stroke-width="0.045">0.69</text>
<text x="415.09" y="54.99" font-size="2.55" fill="#ffffff" text-anchor="middle" stroke="#ffffff" stroke-width="0.045">0.82</text>
<text x="430.48" y="54.99" font-size="2.55" fill="#ffffff" text-anchor="middle" stroke="#ffffff" stroke-width="0.045">0.81</text>
<text x="445.86" y="54.99" font-size="2.55" fill="#ffffff" text-anchor="middle" stroke="#ffffff" stroke-width="0.045">1.1</text>
<text x="461.25" y="54.99" font-size="2.55" fill="#262626" text-anchor="middle" stroke="#262626" stroke-width="0.045">1.5</text>
<text x="476.64" y="54.99" font-size="2.55" fill="#ffffff" text-anchor="middle" stroke="#ffffff" stroke-width="0.045">0.75</text>
<text x="492.02" y="54.99" font-size="2.55" fill="#ffffff" text-anchor="middle" stroke="#ffffff" stroke-width="0.045">0.94</text>
<text x="507.41" y="54.99" font-size="2.55" fill="#ffffff" text-anchor="middle" stroke="#ffffff" stroke-width="0.045">0.67</text>
<text x="415.09" y="67.90" font-size="2.55" fill="#ffffff" text-anchor="middle" stroke="#ffffff" stroke-width="0.045">0.94</text>
<text x="430.48" y="67.90" font-size="2.55" fill="#ffffff" text-anchor="middle" stroke="#ffffff" stroke-width="0.045">0.94</text>
<text x="445.86" y="67.90" font-size="2.55" fill="#ffffff" text-anchor="middle" stroke="#ffffff" stroke-width="0.045">1.1</text>
<text x="461.25" y="67.90" font-size="2.55" fill="#ffffff" text-anchor="middle" stroke="#ffffff" stroke-width="0.045">1.1</text>
<text x="476.64" y="67.90" font-size="2.55" fill="#ffffff" text-anchor="middle" stroke="#ffffff" stroke-width="0.045">0.94</text>
<text x="492.02" y="67.90" font-size="2.55" fill="#ffffff" text-anchor="middle" stroke="#ffffff" stroke-width="0.045">0.94</text>
<text x="507.41" y="67.90" font-size="2.55" fill="#ffffff" text-anchor="middle" stroke="#ffffff" stroke-width="0.045">0.93</text>
<text x="415.09" y="80.81" font-size="2.55" fill="#ffffff" text-anchor="middle" stroke="#ffffff" stroke-width="0.045">0.81</text>
<text x="430.48" y="80.81" font-size="2.55" fill="#ffffff" text-anchor="middle" stroke="#ffffff" stroke-width="0.045">0.81</text>
<text x="445.86" y="80.81" font-size="2.55" fill="#ffffff" text-anchor="middle" stroke="#ffffff" stroke-width="0.045">1.2</text>
<text x="461.25" y="80.81" font-size="2.55" fill="#ffffff" text-anchor="middle" stroke="#ffffff" stroke-width="0.045">1.2</text>
<text x="476.64" y="80.81" font-size="2.55" fill="#ffffff" text-anchor="middle" stroke="#ffffff" stroke-width="0.045">0.81</text>
<text x="492.02" y="80.81" font-size="2.55" fill="#ffffff" text-anchor="middle" stroke="#ffffff" stroke-width="0.045">0.81</text>
<text x="507.41" y="80.81" font-size="2.55" fill="#ffffff" text-anchor="middle" stroke="#ffffff" stroke-width="0.045">0.8</text>
<text x="415.09" y="93.72" font-size="2.55" fill="#ffffff" text-anchor="middle" stroke="#ffffff" stroke-width="0.045">0.94</text>
<text x="430.48" y="93.72" font-size="2.55" fill="#ffffff" text-anchor="middle" stroke="#ffffff" stroke-width="0.045">0.94</text>
<text x="445.86" y="93.72" font-size="2.55" fill="#ffffff" text-anchor="middle" stroke="#ffffff" stroke-width="0.045">1.1</text>
<text x="461.25" y="93.72" font-size="2.55" fill="#ffffff" text-anchor="middle" stroke="#ffffff" stroke-width="0.045">1</text>
<text x="476.64" y="93.72" font-size="2.55" fill="#ffffff" text-anchor="middle" stroke="#ffffff" stroke-width="0.045">1</text>
<text x="492.02" y="93.72" font-size="2.55" fill="#ffffff" text-anchor="middle" stroke="#ffffff" stroke-width="0.045">0.88</text>
<text x="507.41" y="93.72" font-size="2.55" fill="#ffffff" text-anchor="middle" stroke="#ffffff" stroke-width="0.045">1</text>
<text x="415.09" y="106.64" font-size="2.55" fill="#ffffff" text-anchor="middle" stroke="#ffffff" stroke-width="0.045">0.9</text>
<text x="430.48" y="106.64" font-size="2.55" fill="#ffffff" text-anchor="middle" stroke="#ffffff" stroke-width="0.045">0.9</text>
<text x="445.86" y="106.64" font-size="2.55" fill="#ffffff" text-anchor="middle" stroke="#ffffff" stroke-width="0.045">1.1</text>
<text x="461.25" y="106.64" font-size="2.55" fill="#ffffff" text-anchor="middle" stroke="#ffffff" stroke-width="0.045">1.1</text>
<text x="476.64" y="106.64" font-size="2.55" fill="#ffffff" text-anchor="middle" stroke="#ffffff" stroke-width="0.045">0.93</text>
<text x="492.02" y="106.64" font-size="2.55" fill="#ffffff" text-anchor="middle" stroke="#ffffff" stroke-width="0.045">0.88</text>
<text x="507.41" y="106.64" font-size="2.55" fill="#ffffff" text-anchor="middle" stroke="#ffffff" stroke-width="0.045">0.93</text>
<text x="415.09" y="119.55" font-size="2.55" fill="#ffffff" text-anchor="middle" stroke="#ffffff" stroke-width="0.045">0.91</text>
<text x="430.48" y="119.55" font-size="2.55" fill="#ffffff" text-anchor="middle" stroke="#ffffff" stroke-width="0.045">0.9</text>
<text x="445.86" y="119.55" font-size="2.55" fill="#ffffff" text-anchor="middle" stroke="#ffffff" stroke-width="0.045">1.1</text>
<text x="461.25" y="119.55" font-size="2.55" fill="#ffffff" text-anchor="middle" stroke="#ffffff" stroke-width="0.045">1.2</text>
<text x="476.64" y="119.55" font-size="2.55" fill="#ffffff" text-anchor="middle" stroke="#ffffff" stroke-width="0.045">0.88</text>
<text x="492.02" y="119.55" font-size="2.55" fill="#ffffff" text-anchor="middle" stroke="#ffffff" stroke-width="0.045">0.94</text>
<text x="507.41" y="119.55" font-size="2.55" fill="#ffffff" text-anchor="middle" stroke="#ffffff" stroke-width="0.045">0.87</text>
<text x="415.09" y="132.46" font-size="2.55" fill="#ffffff" text-anchor="middle" stroke="#ffffff" stroke-width="0.045">0.91</text>
<text x="430.48" y="132.46" font-size="2.55" fill="#ffffff" text-anchor="middle" stroke="#ffffff" stroke-width="0.045">0.9</text>
<text x="445.86" y="132.46" font-size="2.55" fill="#ffffff" text-anchor="middle" stroke="#ffffff" stroke-width="0.045">1.2</text>
<text x="461.25" y="132.46" font-size="2.55" fill="#ffffff" text-anchor="middle" stroke="#ffffff" stroke-width="0.045">1</text>
<text x="476.64" y="132.46" font-size="2.55" fill="#ffffff" text-anchor="middle" stroke="#ffffff" stroke-width="0.045">1</text>
<text x="492.02" y="132.46" font-size="2.55" fill="#ffffff" text-anchor="middle" stroke="#ffffff" stroke-width="0.045">0.81</text>
<text x="507.41" y="132.46" font-size="2.55" fill="#ffffff" text-anchor="middle" stroke="#ffffff" stroke-width="0.045">1</text>
<line x1="415.09" y1="138.00" x2="415.09" y2="138.95" stroke="#222" stroke-width="0.25"/>
<text x="415.09" y="142.48" font-size="2.72" fill="#222" text-anchor="middle" stroke="#222" stroke-width="0.045">AUC</text>
<line x1="430.48" y1="138.00" x2="430.48" y2="138.95" stroke="#222" stroke-width="0.25"/>
<text x="430.48" y="142.48" font-size="2.72" fill="#222" text-anchor="middle" stroke="#222" stroke-width="0.045">Accuracy</text>
<line x1="445.86" y1="138.00" x2="445.86" y2="138.95" stroke="#222" stroke-width="0.25"/>
<text x="445.86" y="142.48" font-size="2.72" fill="#222" text-anchor="middle" stroke="#222" stroke-width="0.045">O/E(+)</text>
<line x1="461.25" y1="138.00" x2="461.25" y2="138.95" stroke="#222" stroke-width="0.25"/>
<text x="461.25" y="142.48" font-size="2.72" fill="#222" text-anchor="middle" stroke="#222" stroke-width="0.045">O/E(-)</text>
<line x1="476.64" y1="138.00" x2="476.64" y2="138.95" stroke="#222" stroke-width="0.25"/>
<text x="476.64" y="142.48" font-size="2.72" fill="#222" text-anchor="middle" stroke="#222" stroke-width="0.045">Precision</text>
<line x1="492.02" y1="138.00" x2="492.02" y2="138.95" stroke="#222" stroke-width="0.25"/>
<text x="492.02" y="142.48" font-size="2.72" fill="#222" text-anchor="middle" stroke="#222" stroke-width="0.045">Recall</text>
<line x1="507.41" y1="138.00" x2="507.41" y2="138.95" stroke="#222" stroke-width="0.25"/>
<text x="507.41" y="142.48" font-size="2.72" fill="#222" text-anchor="middle" stroke="#222" stroke-width="0.045">Specificity</text>
<line x1="406.45" y1="41.16" x2="407.40" y2="41.16" stroke="#222" stroke-width="0.25"/>
<text x="405.00" y="42.14" font-size="2.72" fill="#222" text-anchor="end" stroke="#222" stroke-width="0.045">AdaBoost</text>
<line x1="406.45" y1="54.07" x2="407.40" y2="54.07" stroke="#222" stroke-width="0.25"/>
<text x="405.00" y="55.05" font-size="2.72" fill="#222" text-anchor="end" stroke="#222" stroke-width="0.045">DT</text>
<line x1="406.45" y1="66.98" x2="407.40" y2="66.98" stroke="#222" stroke-width="0.25"/>
<text x="405.00" y="67.96" font-size="2.72" fill="#222" text-anchor="end" stroke="#222" stroke-width="0.045">ExtraTrees</text>
<line x1="406.45" y1="79.89" x2="407.40" y2="79.89" stroke="#222" stroke-width="0.25"/>
<text x="405.00" y="80.87" font-size="2.72" fill="#222" text-anchor="end" stroke="#222" stroke-width="0.045">GBM</text>
<line x1="406.45" y1="92.81" x2="407.40" y2="92.81" stroke="#222" stroke-width="0.25"/>
<text x="405.00" y="93.79" font-size="2.72" fill="#222" text-anchor="end" stroke="#222" stroke-width="0.045">LinSVM</text>
<line x1="406.45" y1="105.72" x2="407.40" y2="105.72" stroke="#222" stroke-width="0.25"/>
<text x="405.00" y="106.70" font-size="2.72" fill="#222" text-anchor="end" stroke="#222" stroke-width="0.045">RBF-SVM</text>
<line x1="406.45" y1="118.63" x2="407.40" y2="118.63" stroke="#222" stroke-width="0.25"/>
<text x="405.00" y="119.61" font-size="2.72" fill="#222" text-anchor="end" stroke="#222" stroke-width="0.045">RF</text>
<line x1="406.45" y1="131.54" x2="407.40" y2="131.54" stroke="#222" stroke-width="0.25"/>
<text x="405.00" y="132.52" font-size="2.72" fill="#222" text-anchor="end" stroke="#222" stroke-width="0.045">kNN</text>
<text x="461.25" y="146.54" font-size="2.6" fill="#222" text-anchor="middle" stroke="#222" stroke-width="0.045">Performance metrics</text>
<text transform="translate(388.94,86.35) rotate(-90)" font-size="2.6" fill="#222" text-anchor="middle" stroke="#222" stroke-width="0.045">Models</text>
<rect x="521.90" y="34.70" width="5.00" height="103.30" fill="url(#gC)"/>
<line x1="526.90" y1="134.27" x2="527.85" y2="134.27" stroke="#222" stroke-width="0.25"/>
<text x="529.00" y="135.20" font-size="2.6" fill="#222" stroke="#222" stroke-width="0.045">0.7</text>
<line x1="526.90" y1="121.82" x2="527.85" y2="121.82" stroke="#222" stroke-width="0.25"/>
<text x="529.00" y="122.76" font-size="2.6" fill="#222" stroke="#222" stroke-width="0.045">0.8</text>
<line x1="526.90" y1="109.37" x2="527.85" y2="109.37" stroke="#222" stroke-width="0.25"/>
<text x="529.00" y="110.31" font-size="2.6" fill="#222" stroke="#222" stroke-width="0.045">0.9</text>
<line x1="526.90" y1="96.93" x2="527.85" y2="96.93" stroke="#222" stroke-width="0.25"/>
<text x="529.00" y="97.86" font-size="2.6" fill="#222" stroke="#222" stroke-width="0.045">1.0</text>
<line x1="526.90" y1="84.48" x2="527.85" y2="84.48" stroke="#222" stroke-width="0.25"/>
<text x="529.00" y="85.42" font-size="2.6" fill="#222" stroke="#222" stroke-width="0.045">1.1</text>
<line x1="526.90" y1="72.04" x2="527.85" y2="72.04" stroke="#222" stroke-width="0.25"/>
<text x="529.00" y="72.97" font-size="2.6" fill="#222" stroke="#222" stroke-width="0.045">1.2</text>
<line x1="526.90" y1="59.59" x2="527.85" y2="59.59" stroke="#222" stroke-width="0.25"/>
<text x="529.00" y="60.53" font-size="2.6" fill="#222" stroke="#222" stroke-width="0.045">1.3</text>
<line x1="526.90" y1="47.15" x2="527.85" y2="47.15" stroke="#222" stroke-width="0.25"/>
<text x="529.00" y="48.08" font-size="2.6" fill="#222" stroke="#222" stroke-width="0.045">1.4</text>
<line x1="526.90" y1="34.70" x2="527.85" y2="34.70" stroke="#222" stroke-width="0.25"/>
<text x="529.00" y="35.64" font-size="2.6" fill="#222" stroke="#222" stroke-width="0.045">1.5</text>
<text x="460.50" y="11.10" font-size="5.8" font-weight="bold" fill="#111" text-anchor="middle" font-family="'DejaVu Sans','Liberation Sans',sans-serif">C</text>
<rect x="32.90" y="176.50" width="17.38" height="14.60" fill="#34193d"/>
<rect x="50.23" y="176.50" width="17.38" height="14.60" fill="#2b1637"/>
<rect x="67.56" y="176.50" width="17.38" height="14.60" fill="#df2f44"/>
<rect x="84.89" y="176.50" width="17.38" height="14.60" fill="#faebdd"/>
<rect x="102.21" y="176.50" width="17.38" height="14.60" fill="#1e122d"/>
<rect x="119.54" y="176.50" width="17.38" height="14.60" fill="#601f52"/>
<rect x="136.87" y="176.50" width="17.38" height="14.60" fill="#03051a"/>
<rect x="32.90" y="191.05" width="17.38" height="14.60" fill="#34193d"/>
<rect x="50.23" y="191.05" width="17.38" height="14.60" fill="#2b1637"/>
<rect x="67.56" y="191.05" width="17.38" height="14.60" fill="#df2f44"/>
<rect x="84.89" y="191.05" width="17.38" height="14.60" fill="#faebdd"/>
<rect x="102.21" y="191.05" width="17.38" height="14.60" fill="#1e122d"/>
<rect x="119.54" y="191.05" width="17.38" height="14.60" fill="#601f52"/>
<rect x="136.87" y="191.05" width="17.38" height="14.60" fill="#03051a"/>
<rect x="32.90" y="205.60" width="17.38" height="14.60" fill="#8e1d5b"/>
<rect x="50.23" y="205.60" width="17.38" height="14.60" fill="#8e1d5b"/>
<rect x="67.56" y="205.60" width="17.38" height="14.60" fill="#cf1e4d"/>
<rect x="84.89" y="205.60" width="17.38" height="14.60" fill="#9e1a5b"/>
<rect x="102.21" y="205.60" width="17.38" height="14.60" fill="#9e1a5b"/>
<rect x="119.54" y="205.60" width="17.38" height="14.60" fill="#7f1e5a"/>
<rect x="136.87" y="205.60" width="17.38" height="14.60" fill="#9e1a5b"/>
<rect x="32.90" y="220.15" width="17.38" height="14.60" fill="#4c1d4b"/>
<rect x="50.23" y="220.15" width="17.38" height="14.60" fill="#4c1d4b"/>
<rect x="67.56" y="220.15" width="17.38" height="14.60" fill="#d82748"/>
<rect x="84.89" y="220.15" width="17.38" height="14.60" fill="#f26948"/>
<rect x="102.21" y="220.15" width="17.38" height="14.60" fill="#421b45"/>
<rect x="119.54" y="220.15" width="17.38" height="14.60" fill="#601f52"/>
<rect x="136.87" y="220.15" width="17.38" height="14.60" fill="#381a40"/>
<rect x="32.90" y="234.70" width="17.38" height="14.60" fill="#751f58"/>
<rect x="50.23" y="234.70" width="17.38" height="14.60" fill="#691f55"/>
<rect x="67.56" y="234.70" width="17.38" height="14.60" fill="#f26f4c"/>
<rect x="84.89" y="234.70" width="17.38" height="14.60" fill="#9e1a5b"/>
<rect x="102.21" y="234.70" width="17.38" height="14.60" fill="#9e1a5b"/>
<rect x="119.54" y="234.70" width="17.38" height="14.60" fill="#3d1a42"/>
<rect x="136.87" y="234.70" width="17.38" height="14.60" fill="#9e1a5b"/>
<rect x="32.90" y="249.25" width="17.38" height="14.60" fill="#6e1f57"/>
<rect x="50.23" y="249.25" width="17.38" height="14.60" fill="#691f55"/>
<rect x="67.56" y="249.25" width="17.38" height="14.60" fill="#cf1e4d"/>
<rect x="84.89" y="249.25" width="17.38" height="14.60" fill="#ee543f"/>
<rect x="102.21" y="249.25" width="17.38" height="14.60" fill="#601f52"/>
<rect x="119.54" y="249.25" width="17.38" height="14.60" fill="#7f1e5a"/>
<rect x="136.87" y="249.25" width="17.38" height="14.60" fill="#5b1e51"/>
<rect x="32.90" y="263.80" width="17.38" height="14.60" fill="#8e1d5b"/>
<rect x="50.23" y="263.80" width="17.38" height="14.60" fill="#8e1d5b"/>
<rect x="67.56" y="263.80" width="17.38" height="14.60" fill="#cf1e4d"/>
<rect x="84.89" y="263.80" width="17.38" height="14.60" fill="#9e1a5b"/>
<rect x="102.21" y="263.80" width="17.38" height="14.60" fill="#9e1a5b"/>
<rect x="119.54" y="263.80" width="17.38" height="14.60" fill="#7f1e5a"/>
<rect x="136.87" y="263.80" width="17.38" height="14.60" fill="#9e1a5b"/>
<rect x="32.90" y="278.35" width="17.38" height="14.60" fill="#6e1f57"/>
<rect x="50.23" y="278.35" width="17.38" height="14.60" fill="#691f55"/>
<rect x="67.56" y="278.35" width="17.38" height="14.60" fill="#cf1e4d"/>
<rect x="84.89" y="278.35" width="17.38" height="14.60" fill="#ea443e"/>
<rect x="102.21" y="278.35" width="17.38" height="14.60" fill="#601f52"/>
<rect x="119.54" y="278.35" width="17.38" height="14.60" fill="#7f1e5a"/>
<rect x="136.87" y="278.35" width="17.38" height="14.60" fill="#5b1e51"/>
<line x1="50.23" y1="176.50" x2="50.23" y2="292.90" stroke="#fff" stroke-opacity="0.42" stroke-width="0.25"/>
<line x1="67.56" y1="176.50" x2="67.56" y2="292.90" stroke="#fff" stroke-opacity="0.42" stroke-width="0.25"/>
<line x1="84.89" y1="176.50" x2="84.89" y2="292.90" stroke="#fff" stroke-opacity="0.42" stroke-width="0.25"/>
<line x1="102.21" y1="176.50" x2="102.21" y2="292.90" stroke="#fff" stroke-opacity="0.42" stroke-width="0.25"/>
<line x1="119.54" y1="176.50" x2="119.54" y2="292.90" stroke="#fff" stroke-opacity="0.42" stroke-width="0.25"/>
<line x1="136.87" y1="176.50" x2="136.87" y2="292.90" stroke="#fff" stroke-opacity="0.42" stroke-width="0.25"/>
<line x1="32.90" y1="191.05" x2="154.20" y2="191.05" stroke="#fff" stroke-opacity="0.42" stroke-width="0.25"/>
<line x1="32.90" y1="205.60" x2="154.20" y2="205.60" stroke="#fff" stroke-opacity="0.42" stroke-width="0.25"/>
<line x1="32.90" y1="220.15" x2="154.20" y2="220.15" stroke="#fff" stroke-opacity="0.42" stroke-width="0.25"/>
<line x1="32.90" y1="234.70" x2="154.20" y2="234.70" stroke="#fff" stroke-opacity="0.42" stroke-width="0.25"/>
<line x1="32.90" y1="249.25" x2="154.20" y2="249.25" stroke="#fff" stroke-opacity="0.42" stroke-width="0.25"/>
<line x1="32.90" y1="263.80" x2="154.20" y2="263.80" stroke="#fff" stroke-opacity="0.42" stroke-width="0.25"/>
<line x1="32.90" y1="278.35" x2="154.20" y2="278.35" stroke="#fff" stroke-opacity="0.42" stroke-width="0.25"/>
<text x="41.56" y="184.86" font-size="3.0" fill="#ffffff" text-anchor="middle" stroke="#ffffff" stroke-width="0.045">0.79</text>
<text x="58.89" y="184.86" font-size="3.0" fill="#ffffff" text-anchor="middle" stroke="#ffffff" stroke-width="0.045">0.77</text>
<text x="76.22" y="184.86" font-size="3.0" fill="#ffffff" text-anchor="middle" stroke="#ffffff" stroke-width="0.045">1.1</text>
<text x="93.55" y="184.86" font-size="3.0" fill="#262626" text-anchor="middle" stroke="#262626" stroke-width="0.045">1.5</text>
<text x="110.88" y="184.86" font-size="3.0" fill="#ffffff" text-anchor="middle" stroke="#ffffff" stroke-width="0.045">0.74</text>
<text x="128.21" y="184.86" font-size="3.0" fill="#ffffff" text-anchor="middle" stroke="#ffffff" stroke-width="0.045">0.88</text>
<text x="145.54" y="184.86" font-size="3.0" fill="#ffffff" text-anchor="middle" stroke="#ffffff" stroke-width="0.045">0.67</text>
<text x="41.56" y="199.41" font-size="3.0" fill="#ffffff" text-anchor="middle" stroke="#ffffff" stroke-width="0.045">0.79</text>
<text x="58.89" y="199.41" font-size="3.0" fill="#ffffff" text-anchor="middle" stroke="#ffffff" stroke-width="0.045">0.77</text>
<text x="76.22" y="199.41" font-size="3.0" fill="#ffffff" text-anchor="middle" stroke="#ffffff" stroke-width="0.045">1.1</text>
<text x="93.55" y="199.41" font-size="3.0" fill="#262626" text-anchor="middle" stroke="#262626" stroke-width="0.045">1.5</text>
<text x="110.88" y="199.41" font-size="3.0" fill="#ffffff" text-anchor="middle" stroke="#ffffff" stroke-width="0.045">0.74</text>
<text x="128.21" y="199.41" font-size="3.0" fill="#ffffff" text-anchor="middle" stroke="#ffffff" stroke-width="0.045">0.88</text>
<text x="145.54" y="199.41" font-size="3.0" fill="#ffffff" text-anchor="middle" stroke="#ffffff" stroke-width="0.045">0.67</text>
<text x="41.56" y="213.96" font-size="3.0" fill="#ffffff" text-anchor="middle" stroke="#ffffff" stroke-width="0.045">0.97</text>
<text x="58.89" y="213.96" font-size="3.0" fill="#ffffff" text-anchor="middle" stroke="#ffffff" stroke-width="0.045">0.97</text>
<text x="76.22" y="213.96" font-size="3.0" fill="#ffffff" text-anchor="middle" stroke="#ffffff" stroke-width="0.045">1.1</text>
<text x="93.55" y="213.96" font-size="3.0" fill="#ffffff" text-anchor="middle" stroke="#ffffff" stroke-width="0.045">1</text>
<text x="110.88" y="213.96" font-size="3.0" fill="#ffffff" text-anchor="middle" stroke="#ffffff" stroke-width="0.045">1</text>
<text x="128.21" y="213.96" font-size="3.0" fill="#ffffff" text-anchor="middle" stroke="#ffffff" stroke-width="0.045">0.94</text>
<text x="145.54" y="213.96" font-size="3.0" fill="#ffffff" text-anchor="middle" stroke="#ffffff" stroke-width="0.045">1</text>
<text x="41.56" y="228.50" font-size="3.0" fill="#ffffff" text-anchor="middle" stroke="#ffffff" stroke-width="0.045">0.84</text>
<text x="58.89" y="228.50" font-size="3.0" fill="#ffffff" text-anchor="middle" stroke="#ffffff" stroke-width="0.045">0.84</text>
<text x="76.22" y="228.50" font-size="3.0" fill="#ffffff" text-anchor="middle" stroke="#ffffff" stroke-width="0.045">1.1</text>
<text x="93.55" y="228.50" font-size="3.0" fill="#ffffff" text-anchor="middle" stroke="#ffffff" stroke-width="0.045">1.2</text>
<text x="110.88" y="228.50" font-size="3.0" fill="#ffffff" text-anchor="middle" stroke="#ffffff" stroke-width="0.045">0.82</text>
<text x="128.21" y="228.50" font-size="3.0" fill="#ffffff" text-anchor="middle" stroke="#ffffff" stroke-width="0.045">0.88</text>
<text x="145.54" y="228.50" font-size="3.0" fill="#ffffff" text-anchor="middle" stroke="#ffffff" stroke-width="0.045">0.8</text>
<text x="41.56" y="243.06" font-size="3.0" fill="#ffffff" text-anchor="middle" stroke="#ffffff" stroke-width="0.045">0.92</text>
<text x="58.89" y="243.06" font-size="3.0" fill="#ffffff" text-anchor="middle" stroke="#ffffff" stroke-width="0.045">0.9</text>
<text x="76.22" y="243.06" font-size="3.0" fill="#ffffff" text-anchor="middle" stroke="#ffffff" stroke-width="0.045">1.2</text>
<text x="93.55" y="243.06" font-size="3.0" fill="#ffffff" text-anchor="middle" stroke="#ffffff" stroke-width="0.045">1</text>
<text x="110.88" y="243.06" font-size="3.0" fill="#ffffff" text-anchor="middle" stroke="#ffffff" stroke-width="0.045">1</text>
<text x="128.21" y="243.06" font-size="3.0" fill="#ffffff" text-anchor="middle" stroke="#ffffff" stroke-width="0.045">0.81</text>
<text x="145.54" y="243.06" font-size="3.0" fill="#ffffff" text-anchor="middle" stroke="#ffffff" stroke-width="0.045">1</text>
<text x="41.56" y="257.60" font-size="3.0" fill="#ffffff" text-anchor="middle" stroke="#ffffff" stroke-width="0.045">0.91</text>
<text x="58.89" y="257.60" font-size="3.0" fill="#ffffff" text-anchor="middle" stroke="#ffffff" stroke-width="0.045">0.9</text>
<text x="76.22" y="257.60" font-size="3.0" fill="#ffffff" text-anchor="middle" stroke="#ffffff" stroke-width="0.045">1.1</text>
<text x="93.55" y="257.60" font-size="3.0" fill="#ffffff" text-anchor="middle" stroke="#ffffff" stroke-width="0.045">1.2</text>
<text x="110.88" y="257.60" font-size="3.0" fill="#ffffff" text-anchor="middle" stroke="#ffffff" stroke-width="0.045">0.88</text>
<text x="128.21" y="257.60" font-size="3.0" fill="#ffffff" text-anchor="middle" stroke="#ffffff" stroke-width="0.045">0.94</text>
<text x="145.54" y="257.60" font-size="3.0" fill="#ffffff" text-anchor="middle" stroke="#ffffff" stroke-width="0.045">0.87</text>
<text x="41.56" y="272.15" font-size="3.0" fill="#ffffff" text-anchor="middle" stroke="#ffffff" stroke-width="0.045">0.97</text>
<text x="58.89" y="272.15" font-size="3.0" fill="#ffffff" text-anchor="middle" stroke="#ffffff" stroke-width="0.045">0.97</text>
<text x="76.22" y="272.15" font-size="3.0" fill="#ffffff" text-anchor="middle" stroke="#ffffff" stroke-width="0.045">1.1</text>
<text x="93.55" y="272.15" font-size="3.0" fill="#ffffff" text-anchor="middle" stroke="#ffffff" stroke-width="0.045">1</text>
<text x="110.88" y="272.15" font-size="3.0" fill="#ffffff" text-anchor="middle" stroke="#ffffff" stroke-width="0.045">1</text>
<text x="128.21" y="272.15" font-size="3.0" fill="#ffffff" text-anchor="middle" stroke="#ffffff" stroke-width="0.045">0.94</text>
<text x="145.54" y="272.15" font-size="3.0" fill="#ffffff" text-anchor="middle" stroke="#ffffff" stroke-width="0.045">1</text>
<text x="41.56" y="286.70" font-size="3.0" fill="#ffffff" text-anchor="middle" stroke="#ffffff" stroke-width="0.045">0.91</text>
<text x="58.89" y="286.70" font-size="3.0" fill="#ffffff" text-anchor="middle" stroke="#ffffff" stroke-width="0.045">0.9</text>
<text x="76.22" y="286.70" font-size="3.0" fill="#ffffff" text-anchor="middle" stroke="#ffffff" stroke-width="0.045">1.1</text>
<text x="93.55" y="286.70" font-size="3.0" fill="#ffffff" text-anchor="middle" stroke="#ffffff" stroke-width="0.045">1.2</text>
<text x="110.88" y="286.70" font-size="3.0" fill="#ffffff" text-anchor="middle" stroke="#ffffff" stroke-width="0.045">0.88</text>
<text x="128.21" y="286.70" font-size="3.0" fill="#ffffff" text-anchor="middle" stroke="#ffffff" stroke-width="0.045">0.94</text>
<text x="145.54" y="286.70" font-size="3.0" fill="#ffffff" text-anchor="middle" stroke="#ffffff" stroke-width="0.045">0.87</text>
<line x1="41.56" y1="292.90" x2="41.56" y2="293.98" stroke="#222" stroke-width="0.25"/>
<text x="41.56" y="298.62" font-size="3.1" fill="#222" text-anchor="middle" stroke="#222" stroke-width="0.045">AUC</text>
<line x1="58.89" y1="292.90" x2="58.89" y2="293.98" stroke="#222" stroke-width="0.25"/>
<text x="58.89" y="298.62" font-size="3.1" fill="#222" text-anchor="middle" stroke="#222" stroke-width="0.045">Accuracy</text>
<line x1="76.22" y1="292.90" x2="76.22" y2="293.98" stroke="#222" stroke-width="0.25"/>
<text x="76.22" y="298.62" font-size="3.1" fill="#222" text-anchor="middle" stroke="#222" stroke-width="0.045">O/E(+)</text>
<line x1="93.55" y1="292.90" x2="93.55" y2="293.98" stroke="#222" stroke-width="0.25"/>
<text x="93.55" y="298.62" font-size="3.1" fill="#222" text-anchor="middle" stroke="#222" stroke-width="0.045">O/E(-)</text>
<line x1="110.88" y1="292.90" x2="110.88" y2="293.98" stroke="#222" stroke-width="0.25"/>
<text x="110.88" y="298.62" font-size="3.1" fill="#222" text-anchor="middle" stroke="#222" stroke-width="0.045">Precision</text>
<line x1="128.21" y1="292.90" x2="128.21" y2="293.98" stroke="#222" stroke-width="0.25"/>
<text x="128.21" y="298.62" font-size="3.1" fill="#222" text-anchor="middle" stroke="#222" stroke-width="0.045">Recall</text>
<line x1="145.54" y1="292.90" x2="145.54" y2="293.98" stroke="#222" stroke-width="0.25"/>
<text x="145.54" y="298.62" font-size="3.1" fill="#222" text-anchor="middle" stroke="#222" stroke-width="0.045">Specificity</text>
<line x1="31.81" y1="183.78" x2="32.90" y2="183.78" stroke="#222" stroke-width="0.25"/>
<text x="29.90" y="184.89" font-size="3.1" fill="#222" text-anchor="end" stroke="#222" stroke-width="0.045">AdaBoost</text>
<line x1="31.81" y1="198.32" x2="32.90" y2="198.32" stroke="#222" stroke-width="0.25"/>
<text x="29.90" y="199.44" font-size="3.1" fill="#222" text-anchor="end" stroke="#222" stroke-width="0.045">DT</text>
<line x1="31.81" y1="212.88" x2="32.90" y2="212.88" stroke="#222" stroke-width="0.25"/>
<text x="29.90" y="213.99" font-size="3.1" fill="#222" text-anchor="end" stroke="#222" stroke-width="0.045">ExtraTrees</text>
<line x1="31.81" y1="227.42" x2="32.90" y2="227.42" stroke="#222" stroke-width="0.25"/>
<text x="29.90" y="228.54" font-size="3.1" fill="#222" text-anchor="end" stroke="#222" stroke-width="0.045">GBM</text>
<line x1="31.81" y1="241.97" x2="32.90" y2="241.97" stroke="#222" stroke-width="0.25"/>
<text x="29.90" y="243.09" font-size="3.1" fill="#222" text-anchor="end" stroke="#222" stroke-width="0.045">LinSVM</text>
<line x1="31.81" y1="256.52" x2="32.90" y2="256.52" stroke="#222" stroke-width="0.25"/>
<text x="29.90" y="257.64" font-size="3.1" fill="#222" text-anchor="end" stroke="#222" stroke-width="0.045">RBF-SVM</text>
<line x1="31.81" y1="271.07" x2="32.90" y2="271.07" stroke="#222" stroke-width="0.25"/>
<text x="29.90" y="272.19" font-size="3.1" fill="#222" text-anchor="end" stroke="#222" stroke-width="0.045">RF</text>
<line x1="31.81" y1="285.62" x2="32.90" y2="285.62" stroke="#222" stroke-width="0.25"/>
<text x="29.90" y="286.74" font-size="3.1" fill="#222" text-anchor="end" stroke="#222" stroke-width="0.045">kNN</text>
<text x="93.55" y="303.75" font-size="3.2" fill="#222" text-anchor="middle" stroke="#222" stroke-width="0.045">Performance metrics</text>
<text transform="translate(11.15,234.70) rotate(-90)" font-size="3.2" fill="#222" text-anchor="middle" stroke="#222" stroke-width="0.045">Models</text>
<rect x="162.10" y="176.50" width="4.80" height="116.40" fill="url(#gD)"/>
<line x1="166.90" y1="289.37" x2="167.99" y2="289.37" stroke="#222" stroke-width="0.25"/>
<text x="169.85" y="290.49" font-size="3.1" fill="#222" stroke="#222" stroke-width="0.045">0.7</text>
<line x1="166.90" y1="275.26" x2="167.99" y2="275.26" stroke="#222" stroke-width="0.25"/>
<text x="169.85" y="276.38" font-size="3.1" fill="#222" stroke="#222" stroke-width="0.045">0.8</text>
<line x1="166.90" y1="261.15" x2="167.99" y2="261.15" stroke="#222" stroke-width="0.25"/>
<text x="169.85" y="262.27" font-size="3.1" fill="#222" stroke="#222" stroke-width="0.045">0.9</text>
<line x1="166.90" y1="247.05" x2="167.99" y2="247.05" stroke="#222" stroke-width="0.25"/>
<text x="169.85" y="248.16" font-size="3.1" fill="#222" stroke="#222" stroke-width="0.045">1.0</text>
<line x1="166.90" y1="232.94" x2="167.99" y2="232.94" stroke="#222" stroke-width="0.25"/>
<text x="169.85" y="234.05" font-size="3.1" fill="#222" stroke="#222" stroke-width="0.045">1.1</text>
<line x1="166.90" y1="218.83" x2="167.99" y2="218.83" stroke="#222" stroke-width="0.25"/>
<text x="169.85" y="219.94" font-size="3.1" fill="#222" stroke="#222" stroke-width="0.045">1.2</text>
<line x1="166.90" y1="204.72" x2="167.99" y2="204.72" stroke="#222" stroke-width="0.25"/>
<text x="169.85" y="205.83" font-size="3.1" fill="#222" stroke="#222" stroke-width="0.045">1.3</text>
<line x1="166.90" y1="190.61" x2="167.99" y2="190.61" stroke="#222" stroke-width="0.25"/>
<text x="169.85" y="191.73" font-size="3.1" fill="#222" stroke="#222" stroke-width="0.045">1.4</text>
<line x1="166.90" y1="176.50" x2="167.99" y2="176.50" stroke="#222" stroke-width="0.25"/>
<text x="169.85" y="177.62" font-size="3.1" fill="#222" stroke="#222" stroke-width="0.045">1.5</text>
<text x="99.00" y="169.00" font-size="5.8" font-weight="bold" fill="#111" text-anchor="middle" font-family="'DejaVu Sans','Liberation Sans',sans-serif">D</text>
<rect x="221.00" y="178.60" width="16.09" height="14.06" fill="#431c46"/>
<rect x="237.04" y="178.60" width="16.09" height="14.06" fill="#3a1a41"/>
<rect x="253.09" y="178.60" width="16.09" height="14.06" fill="#ea443e"/>
<rect x="269.13" y="178.60" width="16.09" height="14.06" fill="#faebdd"/>
<rect x="285.17" y="178.60" width="16.09" height="14.06" fill="#1a102a"/>
<rect x="301.21" y="178.60" width="16.09" height="14.06" fill="#7a1f59"/>
<rect x="317.26" y="178.60" width="16.09" height="14.06" fill="#03051a"/>
<rect x="221.00" y="192.61" width="16.09" height="14.06" fill="#211330"/>
<rect x="237.04" y="192.61" width="16.09" height="14.06" fill="#211330"/>
<rect x="253.09" y="192.61" width="16.09" height="14.06" fill="#f58d64"/>
<rect x="269.13" y="192.61" width="16.09" height="14.06" fill="#faebdd"/>
<rect x="285.17" y="192.61" width="16.09" height="14.06" fill="#110c24"/>
<rect x="301.21" y="192.61" width="16.09" height="14.06" fill="#431c46"/>
<rect x="317.26" y="192.61" width="16.09" height="14.06" fill="#03051a"/>
<rect x="221.00" y="206.62" width="16.09" height="14.06" fill="#7a1f59"/>
<rect x="237.04" y="206.62" width="16.09" height="14.06" fill="#7a1f59"/>
<rect x="253.09" y="206.62" width="16.09" height="14.06" fill="#ea443e"/>
<rect x="269.13" y="206.62" width="16.09" height="14.06" fill="#ea443e"/>
<rect x="285.17" y="206.62" width="16.09" height="14.06" fill="#7a1f59"/>
<rect x="301.21" y="206.62" width="16.09" height="14.06" fill="#7a1f59"/>
<rect x="317.26" y="206.62" width="16.09" height="14.06" fill="#701f57"/>
<rect x="221.00" y="220.64" width="16.09" height="14.06" fill="#681f55"/>
<rect x="237.04" y="220.64" width="16.09" height="14.06" fill="#541e4e"/>
<rect x="253.09" y="220.64" width="16.09" height="14.06" fill="#ea443e"/>
<rect x="269.13" y="220.64" width="16.09" height="14.06" fill="#f69b71"/>
<rect x="285.17" y="220.64" width="16.09" height="14.06" fill="#211330"/>
<rect x="301.21" y="220.64" width="16.09" height="14.06" fill="#b41658"/>
<rect x="317.26" y="220.64" width="16.09" height="14.06" fill="#03051a"/>
<rect x="221.00" y="234.65" width="16.09" height="14.06" fill="#971c5b"/>
<rect x="237.04" y="234.65" width="16.09" height="14.06" fill="#971c5b"/>
<rect x="253.09" y="234.65" width="16.09" height="14.06" fill="#e83f3f"/>
<rect x="269.13" y="234.65" width="16.09" height="14.06" fill="#b41658"/>
<rect x="285.17" y="234.65" width="16.09" height="14.06" fill="#b41658"/>
<rect x="301.21" y="234.65" width="16.09" height="14.06" fill="#7a1f59"/>
<rect x="317.26" y="234.65" width="16.09" height="14.06" fill="#b41658"/>
<rect x="221.00" y="248.66" width="16.09" height="14.06" fill="#5e1f52"/>
<rect x="237.04" y="248.66" width="16.09" height="14.06" fill="#541e4e"/>
<rect x="253.09" y="248.66" width="16.09" height="14.06" fill="#e83f3f"/>
<rect x="269.13" y="248.66" width="16.09" height="14.06" fill="#f69c73"/>
<rect x="285.17" y="248.66" width="16.09" height="14.06" fill="#431c46"/>
<rect x="301.21" y="248.66" width="16.09" height="14.06" fill="#7a1f59"/>
<rect x="317.26" y="248.66" width="16.09" height="14.06" fill="#3a1a41"/>
<rect x="221.00" y="262.67" width="16.09" height="14.06" fill="#971c5b"/>
<rect x="237.04" y="262.67" width="16.09" height="14.06" fill="#971c5b"/>
<rect x="253.09" y="262.67" width="16.09" height="14.06" fill="#e83f3f"/>
<rect x="269.13" y="262.67" width="16.09" height="14.06" fill="#b41658"/>
<rect x="285.17" y="262.67" width="16.09" height="14.06" fill="#b41658"/>
<rect x="301.21" y="262.67" width="16.09" height="14.06" fill="#7a1f59"/>
<rect x="317.26" y="262.67" width="16.09" height="14.06" fill="#b41658"/>
<rect x="221.00" y="276.69" width="16.09" height="14.06" fill="#431c46"/>
<rect x="237.04" y="276.69" width="16.09" height="14.06" fill="#3a1a41"/>
<rect x="253.09" y="276.69" width="16.09" height="14.06" fill="#f8d6be"/>
<rect x="269.13" y="276.69" width="16.09" height="14.06" fill="#ea443e"/>
<rect x="285.17" y="276.69" width="16.09" height="14.06" fill="#701f57"/>
<rect x="301.21" y="276.69" width="16.09" height="14.06" fill="#08081e"/>
<rect x="317.26" y="276.69" width="16.09" height="14.06" fill="#701f57"/>
<line x1="237.04" y1="178.60" x2="237.04" y2="290.70" stroke="#fff" stroke-opacity="0.42" stroke-width="0.25"/>
<line x1="253.09" y1="178.60" x2="253.09" y2="290.70" stroke="#fff" stroke-opacity="0.42" stroke-width="0.25"/>
<line x1="269.13" y1="178.60" x2="269.13" y2="290.70" stroke="#fff" stroke-opacity="0.42" stroke-width="0.25"/>
<line x1="285.17" y1="178.60" x2="285.17" y2="290.70" stroke="#fff" stroke-opacity="0.42" stroke-width="0.25"/>
<line x1="301.21" y1="178.60" x2="301.21" y2="290.70" stroke="#fff" stroke-opacity="0.42" stroke-width="0.25"/>
<line x1="317.26" y1="178.60" x2="317.26" y2="290.70" stroke="#fff" stroke-opacity="0.42" stroke-width="0.25"/>
<line x1="221.00" y1="192.61" x2="333.30" y2="192.61" stroke="#fff" stroke-opacity="0.42" stroke-width="0.25"/>
<line x1="221.00" y1="206.62" x2="333.30" y2="206.62" stroke="#fff" stroke-opacity="0.42" stroke-width="0.25"/>
<line x1="221.00" y1="220.64" x2="333.30" y2="220.64" stroke="#fff" stroke-opacity="0.42" stroke-width="0.25"/>
<line x1="221.00" y1="234.65" x2="333.30" y2="234.65" stroke="#fff" stroke-opacity="0.42" stroke-width="0.25"/>
<line x1="221.00" y1="248.66" x2="333.30" y2="248.66" stroke="#fff" stroke-opacity="0.42" stroke-width="0.25"/>
<line x1="221.00" y1="262.67" x2="333.30" y2="262.67" stroke="#fff" stroke-opacity="0.42" stroke-width="0.25"/>
<line x1="221.00" y1="276.69" x2="333.30" y2="276.69" stroke="#fff" stroke-opacity="0.42" stroke-width="0.25"/>
<text x="229.02" y="186.49" font-size="2.45" fill="#ffffff" text-anchor="middle" stroke="#ffffff" stroke-width="0.045">0.88</text>
<text x="245.06" y="186.49" font-size="2.45" fill="#ffffff" text-anchor="middle" stroke="#ffffff" stroke-width="0.045">0.87</text>
<text x="261.11" y="186.49" font-size="2.45" fill="#ffffff" text-anchor="middle" stroke="#ffffff" stroke-width="0.045">1.1</text>
<text x="277.15" y="186.49" font-size="2.45" fill="#262626" text-anchor="middle" stroke="#262626" stroke-width="0.045">1.2</text>
<text x="293.19" y="186.49" font-size="2.45" fill="#ffffff" text-anchor="middle" stroke="#ffffff" stroke-width="0.045">0.83</text>
<text x="309.24" y="186.49" font-size="2.45" fill="#ffffff" text-anchor="middle" stroke="#ffffff" stroke-width="0.045">0.94</text>
<text x="325.28" y="186.49" font-size="2.45" fill="#ffffff" text-anchor="middle" stroke="#ffffff" stroke-width="0.045">0.8</text>
<text x="229.02" y="200.50" font-size="2.45" fill="#ffffff" text-anchor="middle" stroke="#ffffff" stroke-width="0.045">0.84</text>
<text x="245.06" y="200.50" font-size="2.45" fill="#ffffff" text-anchor="middle" stroke="#ffffff" stroke-width="0.045">0.84</text>
<text x="261.11" y="200.50" font-size="2.45" fill="#ffffff" text-anchor="middle" stroke="#ffffff" stroke-width="0.045">1.1</text>
<text x="277.15" y="200.50" font-size="2.45" fill="#262626" text-anchor="middle" stroke="#262626" stroke-width="0.045">1.2</text>
<text x="293.19" y="200.50" font-size="2.45" fill="#ffffff" text-anchor="middle" stroke="#ffffff" stroke-width="0.045">0.82</text>
<text x="309.24" y="200.50" font-size="2.45" fill="#ffffff" text-anchor="middle" stroke="#ffffff" stroke-width="0.045">0.88</text>
<text x="325.28" y="200.50" font-size="2.45" fill="#ffffff" text-anchor="middle" stroke="#ffffff" stroke-width="0.045">0.8</text>
<text x="229.02" y="214.51" font-size="2.45" fill="#ffffff" text-anchor="middle" stroke="#ffffff" stroke-width="0.045">0.94</text>
<text x="245.06" y="214.51" font-size="2.45" fill="#ffffff" text-anchor="middle" stroke="#ffffff" stroke-width="0.045">0.94</text>
<text x="261.11" y="214.51" font-size="2.45" fill="#ffffff" text-anchor="middle" stroke="#ffffff" stroke-width="0.045">1.1</text>
<text x="277.15" y="214.51" font-size="2.45" fill="#ffffff" text-anchor="middle" stroke="#ffffff" stroke-width="0.045">1.1</text>
<text x="293.19" y="214.51" font-size="2.45" fill="#ffffff" text-anchor="middle" stroke="#ffffff" stroke-width="0.045">0.94</text>
<text x="309.24" y="214.51" font-size="2.45" fill="#ffffff" text-anchor="middle" stroke="#ffffff" stroke-width="0.045">0.94</text>
<text x="325.28" y="214.51" font-size="2.45" fill="#ffffff" text-anchor="middle" stroke="#ffffff" stroke-width="0.045">0.93</text>
<text x="229.02" y="228.53" font-size="2.45" fill="#ffffff" text-anchor="middle" stroke="#ffffff" stroke-width="0.045">0.92</text>
<text x="245.06" y="228.53" font-size="2.45" fill="#ffffff" text-anchor="middle" stroke="#ffffff" stroke-width="0.045">0.9</text>
<text x="261.11" y="228.53" font-size="2.45" fill="#ffffff" text-anchor="middle" stroke="#ffffff" stroke-width="0.045">1.1</text>
<text x="277.15" y="228.53" font-size="2.45" fill="#262626" text-anchor="middle" stroke="#262626" stroke-width="0.045">1.2</text>
<text x="293.19" y="228.53" font-size="2.45" fill="#ffffff" text-anchor="middle" stroke="#ffffff" stroke-width="0.045">0.84</text>
<text x="309.24" y="228.53" font-size="2.45" fill="#ffffff" text-anchor="middle" stroke="#ffffff" stroke-width="0.045">1</text>
<text x="325.28" y="228.53" font-size="2.45" fill="#ffffff" text-anchor="middle" stroke="#ffffff" stroke-width="0.045">0.8</text>
<text x="229.02" y="242.54" font-size="2.45" fill="#ffffff" text-anchor="middle" stroke="#ffffff" stroke-width="0.045">0.97</text>
<text x="245.06" y="242.54" font-size="2.45" fill="#ffffff" text-anchor="middle" stroke="#ffffff" stroke-width="0.045">0.97</text>
<text x="261.11" y="242.54" font-size="2.45" fill="#ffffff" text-anchor="middle" stroke="#ffffff" stroke-width="0.045">1.1</text>
<text x="277.15" y="242.54" font-size="2.45" fill="#ffffff" text-anchor="middle" stroke="#ffffff" stroke-width="0.045">1</text>
<text x="293.19" y="242.54" font-size="2.45" fill="#ffffff" text-anchor="middle" stroke="#ffffff" stroke-width="0.045">1</text>
<text x="309.24" y="242.54" font-size="2.45" fill="#ffffff" text-anchor="middle" stroke="#ffffff" stroke-width="0.045">0.94</text>
<text x="325.28" y="242.54" font-size="2.45" fill="#ffffff" text-anchor="middle" stroke="#ffffff" stroke-width="0.045">1</text>
<text x="229.02" y="256.55" font-size="2.45" fill="#ffffff" text-anchor="middle" stroke="#ffffff" stroke-width="0.045">0.91</text>
<text x="245.06" y="256.55" font-size="2.45" fill="#ffffff" text-anchor="middle" stroke="#ffffff" stroke-width="0.045">0.9</text>
<text x="261.11" y="256.55" font-size="2.45" fill="#ffffff" text-anchor="middle" stroke="#ffffff" stroke-width="0.045">1.1</text>
<text x="277.15" y="256.55" font-size="2.45" fill="#262626" text-anchor="middle" stroke="#262626" stroke-width="0.045">1.2</text>
<text x="293.19" y="256.55" font-size="2.45" fill="#ffffff" text-anchor="middle" stroke="#ffffff" stroke-width="0.045">0.88</text>
<text x="309.24" y="256.55" font-size="2.45" fill="#ffffff" text-anchor="middle" stroke="#ffffff" stroke-width="0.045">0.94</text>
<text x="325.28" y="256.55" font-size="2.45" fill="#ffffff" text-anchor="middle" stroke="#ffffff" stroke-width="0.045">0.87</text>
<text x="229.02" y="270.56" font-size="2.45" fill="#ffffff" text-anchor="middle" stroke="#ffffff" stroke-width="0.045">0.97</text>
<text x="245.06" y="270.56" font-size="2.45" fill="#ffffff" text-anchor="middle" stroke="#ffffff" stroke-width="0.045">0.97</text>
<text x="261.11" y="270.56" font-size="2.45" fill="#ffffff" text-anchor="middle" stroke="#ffffff" stroke-width="0.045">1.1</text>
<text x="277.15" y="270.56" font-size="2.45" fill="#ffffff" text-anchor="middle" stroke="#ffffff" stroke-width="0.045">1</text>
<text x="293.19" y="270.56" font-size="2.45" fill="#ffffff" text-anchor="middle" stroke="#ffffff" stroke-width="0.045">1</text>
<text x="309.24" y="270.56" font-size="2.45" fill="#ffffff" text-anchor="middle" stroke="#ffffff" stroke-width="0.045">0.94</text>
<text x="325.28" y="270.56" font-size="2.45" fill="#ffffff" text-anchor="middle" stroke="#ffffff" stroke-width="0.045">1</text>
<text x="229.02" y="284.58" font-size="2.45" fill="#ffffff" text-anchor="middle" stroke="#ffffff" stroke-width="0.045">0.88</text>
<text x="245.06" y="284.58" font-size="2.45" fill="#ffffff" text-anchor="middle" stroke="#ffffff" stroke-width="0.045">0.87</text>
<text x="261.11" y="284.58" font-size="2.45" fill="#262626" text-anchor="middle" stroke="#262626" stroke-width="0.045">1.2</text>
<text x="277.15" y="284.58" font-size="2.45" fill="#ffffff" text-anchor="middle" stroke="#ffffff" stroke-width="0.045">1.1</text>
<text x="293.19" y="284.58" font-size="2.45" fill="#ffffff" text-anchor="middle" stroke="#ffffff" stroke-width="0.045">0.93</text>
<text x="309.24" y="284.58" font-size="2.45" fill="#ffffff" text-anchor="middle" stroke="#ffffff" stroke-width="0.045">0.81</text>
<text x="325.28" y="284.58" font-size="2.45" fill="#ffffff" text-anchor="middle" stroke="#ffffff" stroke-width="0.045">0.93</text>
<line x1="229.02" y1="290.70" x2="229.02" y2="291.71" stroke="#222" stroke-width="0.25"/>
<text x="229.02" y="295.94" font-size="2.9" fill="#222" text-anchor="middle" stroke="#222" stroke-width="0.045">AUC</text>
<line x1="245.06" y1="290.70" x2="245.06" y2="291.71" stroke="#222" stroke-width="0.25"/>
<text x="245.06" y="295.94" font-size="2.9" fill="#222" text-anchor="middle" stroke="#222" stroke-width="0.045">Accuracy</text>
<line x1="261.11" y1="290.70" x2="261.11" y2="291.71" stroke="#222" stroke-width="0.25"/>
<text x="261.11" y="295.94" font-size="2.9" fill="#222" text-anchor="middle" stroke="#222" stroke-width="0.045">O/E(+)</text>
<line x1="277.15" y1="290.70" x2="277.15" y2="291.71" stroke="#222" stroke-width="0.25"/>
<text x="277.15" y="295.94" font-size="2.9" fill="#222" text-anchor="middle" stroke="#222" stroke-width="0.045">O/E(-)</text>
<line x1="293.19" y1="290.70" x2="293.19" y2="291.71" stroke="#222" stroke-width="0.25"/>
<text x="293.19" y="295.94" font-size="2.9" fill="#222" text-anchor="middle" stroke="#222" stroke-width="0.045">Precision</text>
<line x1="309.24" y1="290.70" x2="309.24" y2="291.71" stroke="#222" stroke-width="0.25"/>
<text x="309.24" y="295.94" font-size="2.9" fill="#222" text-anchor="middle" stroke="#222" stroke-width="0.045">Recall</text>
<line x1="325.28" y1="290.70" x2="325.28" y2="291.71" stroke="#222" stroke-width="0.25"/>
<text x="325.28" y="295.94" font-size="2.9" fill="#222" text-anchor="middle" stroke="#222" stroke-width="0.045">Specificity</text>
<line x1="219.99" y1="185.61" x2="221.00" y2="185.61" stroke="#222" stroke-width="0.25"/>
<text x="218.60" y="186.65" font-size="2.9" fill="#222" text-anchor="end" stroke="#222" stroke-width="0.045">AdaBoost</text>
<line x1="219.99" y1="199.62" x2="221.00" y2="199.62" stroke="#222" stroke-width="0.25"/>
<text x="218.60" y="200.66" font-size="2.9" fill="#222" text-anchor="end" stroke="#222" stroke-width="0.045">DT</text>
<line x1="219.99" y1="213.63" x2="221.00" y2="213.63" stroke="#222" stroke-width="0.25"/>
<text x="218.60" y="214.68" font-size="2.9" fill="#222" text-anchor="end" stroke="#222" stroke-width="0.045">ExtraTrees</text>
<line x1="219.99" y1="227.64" x2="221.00" y2="227.64" stroke="#222" stroke-width="0.25"/>
<text x="218.60" y="228.69" font-size="2.9" fill="#222" text-anchor="end" stroke="#222" stroke-width="0.045">GBM</text>
<line x1="219.99" y1="241.66" x2="221.00" y2="241.66" stroke="#222" stroke-width="0.25"/>
<text x="218.60" y="242.70" font-size="2.9" fill="#222" text-anchor="end" stroke="#222" stroke-width="0.045">LinSVM</text>
<line x1="219.99" y1="255.67" x2="221.00" y2="255.67" stroke="#222" stroke-width="0.25"/>
<text x="218.60" y="256.71" font-size="2.9" fill="#222" text-anchor="end" stroke="#222" stroke-width="0.045">RBF-SVM</text>
<line x1="219.99" y1="269.68" x2="221.00" y2="269.68" stroke="#222" stroke-width="0.25"/>
<text x="218.60" y="270.73" font-size="2.9" fill="#222" text-anchor="end" stroke="#222" stroke-width="0.045">RF</text>
<line x1="219.99" y1="283.69" x2="221.00" y2="283.69" stroke="#222" stroke-width="0.25"/>
<text x="218.60" y="284.74" font-size="2.9" fill="#222" text-anchor="end" stroke="#222" stroke-width="0.045">kNN</text>
<text x="277.15" y="300.34" font-size="2.9" fill="#222" text-anchor="middle" stroke="#222" stroke-width="0.045">Performance metrics</text>
<text transform="translate(201.04,234.65) rotate(-90)" font-size="2.9" fill="#222" text-anchor="middle" stroke="#222" stroke-width="0.045">Models</text>
<rect x="340.00" y="178.60" width="4.70" height="112.10" fill="url(#gE)"/>
<line x1="344.70" y1="290.70" x2="345.71" y2="290.70" stroke="#222" stroke-width="0.25"/>
<text x="347.35" y="291.78" font-size="3.0" fill="#222" stroke="#222" stroke-width="0.045">0.80</text>
<line x1="344.70" y1="278.24" x2="345.71" y2="278.24" stroke="#222" stroke-width="0.25"/>
<text x="347.35" y="279.32" font-size="3.0" fill="#222" stroke="#222" stroke-width="0.045">0.85</text>
<line x1="344.70" y1="265.79" x2="345.71" y2="265.79" stroke="#222" stroke-width="0.25"/>
<text x="347.35" y="266.87" font-size="3.0" fill="#222" stroke="#222" stroke-width="0.045">0.90</text>
<line x1="344.70" y1="253.33" x2="345.71" y2="253.33" stroke="#222" stroke-width="0.25"/>
<text x="347.35" y="254.41" font-size="3.0" fill="#222" stroke="#222" stroke-width="0.045">0.95</text>
<line x1="344.70" y1="240.88" x2="345.71" y2="240.88" stroke="#222" stroke-width="0.25"/>
<text x="347.35" y="241.96" font-size="3.0" fill="#222" stroke="#222" stroke-width="0.045">1.00</text>
<line x1="344.70" y1="228.42" x2="345.71" y2="228.42" stroke="#222" stroke-width="0.25"/>
<text x="347.35" y="229.50" font-size="3.0" fill="#222" stroke="#222" stroke-width="0.045">1.05</text>
<line x1="344.70" y1="215.97" x2="345.71" y2="215.97" stroke="#222" stroke-width="0.25"/>
<text x="347.35" y="217.05" font-size="3.0" fill="#222" stroke="#222" stroke-width="0.045">1.10</text>
<line x1="344.70" y1="203.51" x2="345.71" y2="203.51" stroke="#222" stroke-width="0.25"/>
<text x="347.35" y="204.59" font-size="3.0" fill="#222" stroke="#222" stroke-width="0.045">1.15</text>
<line x1="344.70" y1="191.06" x2="345.71" y2="191.06" stroke="#222" stroke-width="0.25"/>
<text x="347.35" y="192.14" font-size="3.0" fill="#222" stroke="#222" stroke-width="0.045">1.20</text>
<line x1="344.70" y1="178.60" x2="345.71" y2="178.60" stroke="#222" stroke-width="0.25"/>
<text x="347.35" y="179.68" font-size="3.0" fill="#222" stroke="#222" stroke-width="0.045">1.25</text>
<text x="283.30" y="168.80" font-size="5.8" font-weight="bold" fill="#111" text-anchor="middle" font-family="'DejaVu Sans','Liberation Sans',sans-serif">E</text>
<rect x="400.90" y="179.80" width="16.66" height="34.68" fill="#8c1d5b"/>
<rect x="417.51" y="179.80" width="16.66" height="34.68" fill="#8c1d5b"/>
<rect x="434.13" y="179.80" width="16.66" height="34.68" fill="#f3734e"/>
<rect x="450.74" y="179.80" width="16.66" height="34.68" fill="#ba1656"/>
<rect x="467.36" y="179.80" width="16.66" height="34.68" fill="#ba1656"/>
<rect x="483.97" y="179.80" width="16.66" height="34.68" fill="#601f52"/>
<rect x="500.59" y="179.80" width="16.66" height="34.68" fill="#ba1656"/>
<rect x="400.90" y="214.43" width="16.66" height="34.68" fill="#8c1d5b"/>
<rect x="417.51" y="214.43" width="16.66" height="34.68" fill="#8c1d5b"/>
<rect x="434.13" y="214.43" width="16.66" height="34.68" fill="#f3734e"/>
<rect x="450.74" y="214.43" width="16.66" height="34.68" fill="#ba1656"/>
<rect x="467.36" y="214.43" width="16.66" height="34.68" fill="#ba1656"/>
<rect x="483.97" y="214.43" width="16.66" height="34.68" fill="#601f52"/>
<rect x="500.59" y="214.43" width="16.66" height="34.68" fill="#ba1656"/>
<rect x="400.90" y="249.07" width="16.66" height="34.68" fill="#03051a"/>
<rect x="417.51" y="249.07" width="16.66" height="34.68" fill="#03051a"/>
<rect x="434.13" y="249.07" width="16.66" height="34.68" fill="#f8d9c3"/>
<rect x="450.74" y="249.07" width="16.66" height="34.68" fill="#faebdd"/>
<rect x="467.36" y="249.07" width="16.66" height="34.68" fill="#0e0b22"/>
<rect x="483.97" y="249.07" width="16.66" height="34.68" fill="#0e0b22"/>
<rect x="500.59" y="249.07" width="16.66" height="34.68" fill="#03051a"/>
<line x1="417.51" y1="179.80" x2="417.51" y2="283.70" stroke="#fff" stroke-opacity="0.42" stroke-width="0.25"/>
<line x1="434.13" y1="179.80" x2="434.13" y2="283.70" stroke="#fff" stroke-opacity="0.42" stroke-width="0.25"/>
<line x1="450.74" y1="179.80" x2="450.74" y2="283.70" stroke="#fff" stroke-opacity="0.42" stroke-width="0.25"/>
<line x1="467.36" y1="179.80" x2="467.36" y2="283.70" stroke="#fff" stroke-opacity="0.42" stroke-width="0.25"/>
<line x1="483.97" y1="179.80" x2="483.97" y2="283.70" stroke="#fff" stroke-opacity="0.42" stroke-width="0.25"/>
<line x1="500.59" y1="179.80" x2="500.59" y2="283.70" stroke="#fff" stroke-opacity="0.42" stroke-width="0.25"/>
<line x1="400.90" y1="214.43" x2="517.20" y2="214.43" stroke="#fff" stroke-opacity="0.42" stroke-width="0.25"/>
<line x1="400.90" y1="249.07" x2="517.20" y2="249.07" stroke="#fff" stroke-opacity="0.42" stroke-width="0.25"/>
<text x="409.21" y="198.52" font-size="3.9" fill="#ffffff" text-anchor="middle" stroke="#ffffff" stroke-width="0.045">0.97</text>
<text x="425.82" y="198.52" font-size="3.9" fill="#ffffff" text-anchor="middle" stroke="#ffffff" stroke-width="0.045">0.97</text>
<text x="442.44" y="198.52" font-size="3.9" fill="#ffffff" text-anchor="middle" stroke="#ffffff" stroke-width="0.045">1.1</text>
<text x="459.05" y="198.52" font-size="3.9" fill="#ffffff" text-anchor="middle" stroke="#ffffff" stroke-width="0.045">1</text>
<text x="475.66" y="198.52" font-size="3.9" fill="#ffffff" text-anchor="middle" stroke="#ffffff" stroke-width="0.045">1</text>
<text x="492.28" y="198.52" font-size="3.9" fill="#ffffff" text-anchor="middle" stroke="#ffffff" stroke-width="0.045">0.94</text>
<text x="508.89" y="198.52" font-size="3.9" fill="#ffffff" text-anchor="middle" stroke="#ffffff" stroke-width="0.045">1</text>
<text x="409.21" y="233.15" font-size="3.9" fill="#ffffff" text-anchor="middle" stroke="#ffffff" stroke-width="0.045">0.97</text>
<text x="425.82" y="233.15" font-size="3.9" fill="#ffffff" text-anchor="middle" stroke="#ffffff" stroke-width="0.045">0.97</text>
<text x="442.44" y="233.15" font-size="3.9" fill="#ffffff" text-anchor="middle" stroke="#ffffff" stroke-width="0.045">1.1</text>
<text x="459.05" y="233.15" font-size="3.9" fill="#ffffff" text-anchor="middle" stroke="#ffffff" stroke-width="0.045">1</text>
<text x="475.66" y="233.15" font-size="3.9" fill="#ffffff" text-anchor="middle" stroke="#ffffff" stroke-width="0.045">1</text>
<text x="492.28" y="233.15" font-size="3.9" fill="#ffffff" text-anchor="middle" stroke="#ffffff" stroke-width="0.045">0.94</text>
<text x="508.89" y="233.15" font-size="3.9" fill="#ffffff" text-anchor="middle" stroke="#ffffff" stroke-width="0.045">1</text>
<text x="409.21" y="267.79" font-size="3.9" fill="#ffffff" text-anchor="middle" stroke="#ffffff" stroke-width="0.045">0.87</text>
<text x="425.82" y="267.79" font-size="3.9" fill="#ffffff" text-anchor="middle" stroke="#ffffff" stroke-width="0.045">0.87</text>
<text x="442.44" y="267.79" font-size="3.9" fill="#262626" text-anchor="middle" stroke="#262626" stroke-width="0.045">1.1</text>
<text x="459.05" y="267.79" font-size="3.9" fill="#262626" text-anchor="middle" stroke="#262626" stroke-width="0.045">1.2</text>
<text x="475.66" y="267.79" font-size="3.9" fill="#ffffff" text-anchor="middle" stroke="#ffffff" stroke-width="0.045">0.88</text>
<text x="492.28" y="267.79" font-size="3.9" fill="#ffffff" text-anchor="middle" stroke="#ffffff" stroke-width="0.045">0.88</text>
<text x="508.89" y="267.79" font-size="3.9" fill="#ffffff" text-anchor="middle" stroke="#ffffff" stroke-width="0.045">0.87</text>
<line x1="409.21" y1="283.70" x2="409.21" y2="285.12" stroke="#222" stroke-width="0.25"/>
<text x="409.21" y="290.06" font-size="4.06" fill="#222" text-anchor="middle" stroke="#222" stroke-width="0.045">AUC</text>
<line x1="425.82" y1="283.70" x2="425.82" y2="285.12" stroke="#222" stroke-width="0.25"/>
<text x="425.82" y="290.06" font-size="4.06" fill="#222" text-anchor="middle" stroke="#222" stroke-width="0.045">Accuracy</text>
<line x1="442.44" y1="283.70" x2="442.44" y2="285.12" stroke="#222" stroke-width="0.25"/>
<text x="442.44" y="290.06" font-size="4.06" fill="#222" text-anchor="middle" stroke="#222" stroke-width="0.045">O/E(+)</text>
<line x1="459.05" y1="283.70" x2="459.05" y2="285.12" stroke="#222" stroke-width="0.25"/>
<text x="459.05" y="290.06" font-size="4.06" fill="#222" text-anchor="middle" stroke="#222" stroke-width="0.045">O/E(-)</text>
<line x1="475.66" y1="283.70" x2="475.66" y2="285.12" stroke="#222" stroke-width="0.25"/>
<text x="475.66" y="290.06" font-size="4.06" fill="#222" text-anchor="middle" stroke="#222" stroke-width="0.045">Precision</text>
<line x1="492.28" y1="283.70" x2="492.28" y2="285.12" stroke="#222" stroke-width="0.25"/>
<text x="492.28" y="290.06" font-size="4.06" fill="#222" text-anchor="middle" stroke="#222" stroke-width="0.045">Recall</text>
<line x1="508.89" y1="283.70" x2="508.89" y2="285.12" stroke="#222" stroke-width="0.25"/>
<text x="508.89" y="290.06" font-size="4.06" fill="#222" text-anchor="middle" stroke="#222" stroke-width="0.045">Specificity</text>
<line x1="399.48" y1="197.12" x2="400.90" y2="197.12" stroke="#222" stroke-width="0.25"/>
<text transform="translate(396.36,197.12) rotate(-90)" font-size="4.06" fill="#222" text-anchor="middle" stroke="#222" stroke-width="0.045">ExtraTrees</text>
<line x1="399.48" y1="231.75" x2="400.90" y2="231.75" stroke="#222" stroke-width="0.25"/>
<text transform="translate(396.36,231.75) rotate(-90)" font-size="4.06" fill="#222" text-anchor="middle" stroke="#222" stroke-width="0.045">LinSVM</text>
<line x1="399.48" y1="266.38" x2="400.90" y2="266.38" stroke="#222" stroke-width="0.25"/>
<text transform="translate(396.36,266.38) rotate(-90)" font-size="4.06" fill="#222" text-anchor="middle" stroke="#222" stroke-width="0.045">RF</text>
<text x="459.05" y="295.18" font-size="4.1" fill="#222" text-anchor="middle" stroke="#222" stroke-width="0.045">Performance metrics</text>
<text transform="translate(390.08,231.75) rotate(-90)" font-size="4.1" fill="#222" text-anchor="middle" stroke="#222" stroke-width="0.045">Models</text>
<rect x="524.90" y="179.80" width="4.60" height="103.90" fill="url(#gF)"/>
<line x1="529.50" y1="272.40" x2="530.92" y2="272.40" stroke="#222" stroke-width="0.25"/>
<text x="532.55" y="273.87" font-size="4.1" fill="#222" stroke="#222" stroke-width="0.045">0.90</text>
<line x1="529.50" y1="254.17" x2="530.92" y2="254.17" stroke="#222" stroke-width="0.25"/>
<text x="532.55" y="255.65" font-size="4.1" fill="#222" stroke="#222" stroke-width="0.045">0.95</text>
<line x1="529.50" y1="235.94" x2="530.92" y2="235.94" stroke="#222" stroke-width="0.25"/>
<text x="532.55" y="237.42" font-size="4.1" fill="#222" stroke="#222" stroke-width="0.045">1.00</text>
<line x1="529.50" y1="217.71" x2="530.92" y2="217.71" stroke="#222" stroke-width="0.25"/>
<text x="532.55" y="219.19" font-size="4.1" fill="#222" stroke="#222" stroke-width="0.045">1.05</text>
<line x1="529.50" y1="199.49" x2="530.92" y2="199.49" stroke="#222" stroke-width="0.25"/>
<text x="532.55" y="200.96" font-size="4.1" fill="#222" stroke="#222" stroke-width="0.045">1.10</text>
<line x1="529.50" y1="181.26" x2="530.92" y2="181.26" stroke="#222" stroke-width="0.25"/>
<text x="532.55" y="182.73" font-size="4.1" fill="#222" stroke="#222" stroke-width="0.045">1.15</text>
<text x="460.40" y="168.50" font-size="5.8" font-weight="bold" fill="#111" text-anchor="middle" font-family="'DejaVu Sans','Liberation Sans',sans-serif">F</text>
<ellipse cx="266.0" cy="69.7" rx="46.4" ry="42.4" fill="none" stroke="#4a6484" stroke-width="0.62"/>
<ellipse cx="305.9" cy="69.7" rx="46.6" ry="42.5" fill="none" stroke="#f3cf38" stroke-width="0.75"/>
<ellipse cx="285.7" cy="105.9" rx="46.6" ry="42.8" fill="none" stroke="#a27450" stroke-width="0.7"/>
<text x="239.9" y="56.11" font-size="3.65" fill="#c92f45" text-anchor="middle" font-family="'Liberation Sans',sans-serif">SNRPN,</text>
<text x="239.9" y="60.56" font-size="3.65" fill="#c92f45" text-anchor="middle" font-family="'Liberation Sans',sans-serif">LOC105371922,</text>
<text x="239.9" y="65.01" font-size="3.65" fill="#c92f45" text-anchor="middle" font-family="'Liberation Sans',sans-serif">ZNF324B</text>
<text x="286.4" y="46.31" font-size="3.65" fill="#27a56c" text-anchor="middle" font-family="'Liberation Sans',sans-serif">LOC107984964,</text>
<text x="286.4" y="50.71" font-size="3.65" fill="#27a56c" text-anchor="middle" font-family="'Liberation Sans',sans-serif">DNAJA,</text>
<text x="286.4" y="55.11" font-size="3.65" fill="#27a56c" text-anchor="middle" font-family="'Liberation Sans',sans-serif">LOC105374935,</text>
<text x="286.4" y="59.51" font-size="3.65" fill="#c92f45" text-anchor="middle" font-family="'Liberation Sans',sans-serif">LOC107985984</text>
<text x="331" y="50.11" font-size="3.65" fill="#27a56c" text-anchor="middle" font-family="'Liberation Sans',sans-serif">HELZ,</text>
<text x="331" y="54.36" font-size="3.65" fill="#c92f45" text-anchor="middle" font-family="'Liberation Sans',sans-serif">LOC105377703,</text>
<text x="331" y="58.61" font-size="3.65" fill="#c92f45" text-anchor="middle" font-family="'Liberation Sans',sans-serif">IRF4,</text>
<text x="331" y="62.91" font-size="3.65" fill="#27a56c" text-anchor="middle" font-family="'Liberation Sans',sans-serif">LOC101927388,</text>
<text x="331" y="67.21" font-size="3.65" fill="#c92f45" text-anchor="middle" font-family="'Liberation Sans',sans-serif">LOC105375487</text>
<text x="285.8" y="74.61" font-size="3.65" fill="#c92f45" text-anchor="middle" font-family="'Liberation Sans',sans-serif">LOC107984203,</text>
<text x="285.8" y="79.01" font-size="3.65" fill="#c92f45" text-anchor="middle" font-family="'Liberation Sans',sans-serif">FGF4, CNFN,</text>
<text x="285.8" y="83.41" font-size="3.65" fill="#c92f45" text-anchor="middle" font-family="'Liberation Sans',sans-serif">DHDH,</text>
<text x="285.8" y="87.81" font-size="3.65" fill="#27a56c" text-anchor="middle" font-family="'Liberation Sans',sans-serif">LINC01447,</text>
<text x="285.8" y="92.21" font-size="3.65" fill="#c92f45" text-anchor="middle" font-family="'Liberation Sans',sans-serif">LOC105379418</text>
<text x="256.0" y="100.61" font-size="3.65" fill="#27a56c" text-anchor="middle" font-family="'Liberation Sans',sans-serif">CDC25,</text>
<text x="256.0" y="104.91" font-size="3.65" fill="#c92f45" text-anchor="middle" font-family="'Liberation Sans',sans-serif">LOC107985832</text>
<text x="286.0" y="122.61" font-size="3.65" fill="#27a56c" text-anchor="middle" font-family="'Liberation Sans',sans-serif">LOC105377253,</text>
<text x="286.0" y="127.01" font-size="3.65" fill="#c92f45" text-anchor="middle" font-family="'Liberation Sans',sans-serif">LOC105375487,</text>
<text x="286.0" y="131.31" font-size="3.65" fill="#c92f45" text-anchor="middle" font-family="'Liberation Sans',sans-serif">LINC01667,</text>
<text x="286.0" y="135.71" font-size="3.65" fill="#c92f45" text-anchor="middle" font-family="'Liberation Sans',sans-serif">ATP6V0E2, STK3</text>
<text x="213" y="33.0" font-size="5" font-weight="bold" fill="#284a7c" text-anchor="middle" font-family="'Liberation Sans',sans-serif">ANOVA</text>
<text x="357.8" y="32.2" font-size="4.8" font-weight="bold" fill="#eab72a" text-anchor="middle" font-family="'Liberation Sans',sans-serif">MRMR</text>
<text x="285.6" y="157.6" font-size="4.55" font-weight="bold" fill="#8c4714" text-anchor="middle" font-family="'Liberation Sans',sans-serif">LASSO</text>
<text x="283.5" y="11.0" font-size="5.8" font-weight="bold" fill="#111" text-anchor="middle" font-family="'DejaVu Sans','Liberation Sans',sans-serif">B</text>
<rect x="334.8" y="144.8" width="5.8" height="4.9" fill="#16a84c"/>
<rect x="334.8" y="152.8" width="5.8" height="5.0" fill="#fb0d14"/>
<text x="342" y="148.65" font-size="3.3" font-weight="bold" fill="#222" font-family="'Liberation Sans',sans-serif">Hypermethylated DMC</text>
<text x="342" y="156.6" font-size="3.3" font-weight="bold" fill="#222" font-family="'Liberation Sans',sans-serif">Hypomethylated DMC</text>
</svg>
</body></html>
